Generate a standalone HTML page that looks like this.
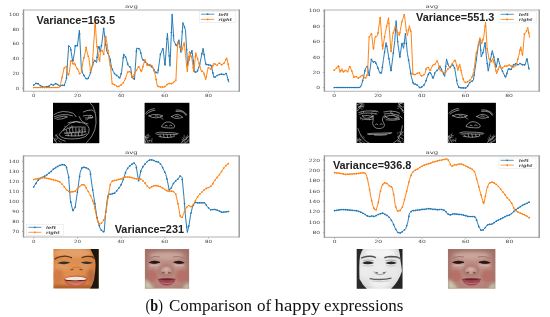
<!DOCTYPE html>
<html><head><meta charset="utf-8"><title>Comparison of happy expressions</title>
<style>
html,body{margin:0;padding:0;background:#fff;}
body{width:550px;height:317px;overflow:hidden;position:relative;}
svg{position:absolute;left:0;top:0;display:block;filter:blur(0.3px);}
.tt{font-family:"DejaVu Sans",sans-serif;font-size:4.7px;fill:#444;}
.tl{font-family:"DejaVu Sans",sans-serif;font-size:4.4px;fill:#444;}
.lg{font-family:"DejaVu Sans",sans-serif;font-size:4.1px;font-style:italic;font-weight:bold;fill:#555;}
.vt{font-family:"Liberation Sans",sans-serif;font-weight:bold;font-size:10.9px;fill:#222;}
.tk{stroke:#777;stroke-width:0.6;}
.fh{stroke:#b4b4b4;stroke-width:1.1;}
.fv{stroke:#969696;stroke-width:1.4;}
.cap{position:absolute;left:0;top:0;font-family:"Liberation Serif",serif;}
</style></head>
<body>
<svg width="550" height="317" viewBox="0 0 550 317">
<rect width="550" height="317" fill="#fff"/>
<text x="125.0" y="8.1" class="tt" textLength="12.8" lengthAdjust="spacingAndGlyphs">avg</text>
<line x1="33.7" y1="91.2" x2="33.7" y2="92.7" class="tk"/><text x="31.98" y="96.8" class="tl" textLength="3.45" lengthAdjust="spacingAndGlyphs">0</text>
<line x1="77.4" y1="91.2" x2="77.4" y2="92.7" class="tk"/><text x="73.95" y="96.8" class="tl" textLength="6.90" lengthAdjust="spacingAndGlyphs">20</text>
<line x1="121.1" y1="91.2" x2="121.1" y2="92.7" class="tk"/><text x="117.65" y="96.8" class="tl" textLength="6.90" lengthAdjust="spacingAndGlyphs">40</text>
<line x1="164.8" y1="91.2" x2="164.8" y2="92.7" class="tk"/><text x="161.35" y="96.8" class="tl" textLength="6.90" lengthAdjust="spacingAndGlyphs">60</text>
<line x1="208.5" y1="91.2" x2="208.5" y2="92.7" class="tk"/><text x="205.05" y="96.8" class="tl" textLength="6.90" lengthAdjust="spacingAndGlyphs">80</text>
<line x1="22.0" y1="88.2" x2="23.5" y2="88.2" class="tk"/><text x="15.80" y="89.8" class="tl" textLength="3.40" lengthAdjust="spacingAndGlyphs">0</text>
<line x1="22.0" y1="73.4" x2="23.5" y2="73.4" class="tk"/><text x="12.40" y="74.9" class="tl" textLength="6.80" lengthAdjust="spacingAndGlyphs">20</text>
<line x1="22.0" y1="58.6" x2="23.5" y2="58.6" class="tk"/><text x="12.40" y="60.1" class="tl" textLength="6.80" lengthAdjust="spacingAndGlyphs">40</text>
<line x1="22.0" y1="43.7" x2="23.5" y2="43.7" class="tk"/><text x="12.40" y="45.3" class="tl" textLength="6.80" lengthAdjust="spacingAndGlyphs">60</text>
<line x1="22.0" y1="28.9" x2="23.5" y2="28.9" class="tk"/><text x="12.40" y="30.5" class="tl" textLength="6.80" lengthAdjust="spacingAndGlyphs">80</text>
<line x1="22.0" y1="14.1" x2="23.5" y2="14.1" class="tk"/><text x="9.00" y="15.7" class="tl" textLength="10.20" lengthAdjust="spacingAndGlyphs">100</text>
<polyline points="33.5,85.3 35.6,83.4 38.1,83.7 40.1,85.5 42.1,86.5 44.6,87.3 46.7,86.5 48.7,86.5 51.0,84.2 53.0,85.3 55.3,83.7 57.3,84.0 59.3,86.3 61.8,85.3 64.3,85.3 66.4,79.2 67.5,62.7 68.7,45.7 70.5,47.5 72.7,61.9 74.5,52.3 75.3,45.4 77.4,45.7 79.4,30.2 81.4,69.7 83.1,74.0 85.7,78.3 87.8,79.2 90.1,74.0 92.3,66.2 94.4,60.0 96.6,62.6 97.7,50.0 98.9,46.0 100.2,52.3 101.8,43.7 103.7,27.9 105.2,40.5 106.8,51.5 108.4,53.9 110.0,58.6 111.5,67.3 113.4,71.8 115.2,74.6 117.8,75.9 119.8,78.5 121.6,72.0 123.7,53.9 126.0,57.8 128.1,65.6 130.7,67.4 132.0,77.2 134.5,79.3 136.6,48.2 139.7,48.8 142.3,59.1 144.9,61.7 147.5,64.3 150.0,65.6 152.6,67.4 155.2,72.0 157.8,73.3 160.4,54.4 163.0,48.2 165.0,65.6 167.4,33.3 170.0,66.3 172.1,13.9 173.9,41.0 176.5,46.2 179.0,39.7 180.9,52.6 182.9,22.4 185.5,30.2 187.6,65.6 189.4,57.8 192.0,50.0 194.5,72.0 197.1,72.0 199.7,64.3 203.1,48.2 205.7,64.3 208.8,64.8 211.3,65.6 213.9,77.7 216.5,75.9 219.1,74.6 221.7,74.1 224.3,74.6 226.3,73.3 228.9,82.4" fill="none" stroke="#1f77b4" stroke-width="0.95" stroke-linejoin="round"/>
<g fill="#1f77b4"><circle cx="33.7" cy="85.1" r="0.85"/><circle cx="35.9" cy="83.4" r="0.85"/><circle cx="38.1" cy="83.7" r="0.85"/><circle cx="40.3" cy="85.6" r="0.85"/><circle cx="42.4" cy="86.6" r="0.85"/><circle cx="44.6" cy="87.3" r="0.85"/><circle cx="46.8" cy="86.5" r="0.85"/><circle cx="49.0" cy="86.2" r="0.85"/><circle cx="51.2" cy="84.3" r="0.85"/><circle cx="53.4" cy="85.0" r="0.85"/><circle cx="55.6" cy="83.7" r="0.85"/><circle cx="57.7" cy="84.5" r="0.85"/><circle cx="59.9" cy="86.1" r="0.85"/><circle cx="62.1" cy="85.3" r="0.85"/><circle cx="64.3" cy="85.3" r="0.85"/><circle cx="66.5" cy="78.1" r="0.85"/><circle cx="68.7" cy="46.3" r="0.85"/><circle cx="70.8" cy="49.8" r="0.85"/><circle cx="73.0" cy="60.1" r="0.85"/><circle cx="75.2" cy="46.1" r="0.85"/><circle cx="77.4" cy="45.7" r="0.85"/><circle cx="79.6" cy="33.9" r="0.85"/><circle cx="81.8" cy="70.6" r="0.85"/><circle cx="84.0" cy="75.4" r="0.85"/><circle cx="86.1" cy="78.5" r="0.85"/><circle cx="88.3" cy="78.0" r="0.85"/><circle cx="90.5" cy="72.5" r="0.85"/><circle cx="92.7" cy="65.0" r="0.85"/><circle cx="94.9" cy="60.6" r="0.85"/><circle cx="97.1" cy="57.3" r="0.85"/><circle cx="99.2" cy="47.7" r="0.85"/><circle cx="101.4" cy="45.7" r="0.85"/><circle cx="103.6" cy="28.6" r="0.85"/><circle cx="105.8" cy="44.7" r="0.85"/><circle cx="108.0" cy="53.3" r="0.85"/><circle cx="110.2" cy="59.6" r="0.85"/><circle cx="112.4" cy="69.3" r="0.85"/><circle cx="114.5" cy="73.6" r="0.85"/><circle cx="116.7" cy="75.4" r="0.85"/><circle cx="118.9" cy="77.3" r="0.85"/><circle cx="121.1" cy="73.8" r="0.85"/><circle cx="123.3" cy="57.5" r="0.85"/><circle cx="125.5" cy="56.9" r="0.85"/><circle cx="127.7" cy="63.9" r="0.85"/><circle cx="129.8" cy="66.8" r="0.85"/><circle cx="132.0" cy="77.2" r="0.85"/><circle cx="134.2" cy="79.1" r="0.85"/><circle cx="136.4" cy="51.2" r="0.85"/><circle cx="138.6" cy="48.6" r="0.85"/><circle cx="140.8" cy="53.0" r="0.85"/><circle cx="142.9" cy="59.7" r="0.85"/><circle cx="145.1" cy="61.9" r="0.85"/><circle cx="147.3" cy="64.1" r="0.85"/><circle cx="149.5" cy="65.3" r="0.85"/><circle cx="151.7" cy="66.8" r="0.85"/><circle cx="153.9" cy="69.7" r="0.85"/><circle cx="156.1" cy="72.4" r="0.85"/><circle cx="158.2" cy="70.1" r="0.85"/><circle cx="160.4" cy="54.3" r="0.85"/><circle cx="162.6" cy="49.1" r="0.85"/><circle cx="164.8" cy="63.9" r="0.85"/><circle cx="167.0" cy="38.9" r="0.85"/><circle cx="169.2" cy="55.8" r="0.85"/><circle cx="171.4" cy="32.5" r="0.85"/><circle cx="173.5" cy="35.6" r="0.85"/><circle cx="175.7" cy="44.7" r="0.85"/><circle cx="177.9" cy="42.5" r="0.85"/><circle cx="180.1" cy="47.1" r="0.85"/><circle cx="182.3" cy="31.8" r="0.85"/><circle cx="184.5" cy="27.1" r="0.85"/><circle cx="186.7" cy="49.6" r="0.85"/><circle cx="188.8" cy="60.2" r="0.85"/><circle cx="191.0" cy="52.9" r="0.85"/><circle cx="193.2" cy="60.6" r="0.85"/><circle cx="195.4" cy="72.0" r="0.85"/><circle cx="197.6" cy="70.6" r="0.85"/><circle cx="199.8" cy="64.0" r="0.85"/><circle cx="201.9" cy="53.7" r="0.85"/><circle cx="204.1" cy="54.6" r="0.85"/><circle cx="206.3" cy="64.4" r="0.85"/><circle cx="208.5" cy="64.8" r="0.85"/><circle cx="210.7" cy="65.4" r="0.85"/><circle cx="212.9" cy="72.9" r="0.85"/><circle cx="215.1" cy="76.9" r="0.85"/><circle cx="217.2" cy="75.5" r="0.85"/><circle cx="219.4" cy="74.5" r="0.85"/><circle cx="221.6" cy="74.1" r="0.85"/><circle cx="223.8" cy="74.5" r="0.85"/><circle cx="226.0" cy="73.5" r="0.85"/><circle cx="228.2" cy="79.8" r="0.85"/></g>
<polyline points="33.5,87.5 59.3,87.5 60.6,83.5 62.3,76.6 64.1,67.9 66.3,66.2 68.1,75.7 69.3,72.3 71.0,60.1 72.2,61.0 73.3,64.5 74.5,62.7 76.2,67.1 77.9,69.7 79.7,74.0 81.4,72.3 83.1,61.0 84.9,54.1 86.1,47.1 87.5,54.1 88.8,57.5 90.6,71.4 92.3,65.3 95.2,21.5 96.6,43.7 98.1,53.1 99.7,61.8 100.5,51.5 102.1,50.0 103.7,54.7 105.6,35.8 107.1,43.7 108.7,56.3 110.8,68.9 112.1,83.6 115.2,84.9 117.8,87.0 120.3,85.5 122.9,83.6 125.5,78.5 127.6,72.0 130.2,71.5 132.7,78.5 135.3,72.0 138.9,66.3 141.5,72.0 144.9,59.6 147.5,65.6 150.0,64.3 152.6,66.3 155.2,74.6 157.3,86.2 160.4,87.0 164.3,87.0 168.1,83.6 172.0,83.6 175.9,80.3 177.7,42.3 179.8,46.2 181.6,51.3 184.2,42.3 185.5,55.2 187.3,72.0 189.4,51.3 192.0,59.1 193.8,72.0 195.8,52.6 198.4,61.7 201.0,70.7 203.6,72.0 205.7,79.8 208.2,67.4 211.3,69.4 213.9,63.0 216.5,65.6 219.1,63.0 221.7,64.8 224.3,63.0 226.8,57.8 229.4,70.0" fill="none" stroke="#ff7f0e" stroke-width="0.95" stroke-linejoin="round"/>
<g fill="#ff7f0e"><circle cx="33.7" cy="87.5" r="0.85"/><circle cx="35.9" cy="87.5" r="0.85"/><circle cx="38.1" cy="87.5" r="0.85"/><circle cx="40.3" cy="87.5" r="0.85"/><circle cx="42.4" cy="87.5" r="0.85"/><circle cx="44.6" cy="87.5" r="0.85"/><circle cx="46.8" cy="87.5" r="0.85"/><circle cx="49.0" cy="87.5" r="0.85"/><circle cx="51.2" cy="87.5" r="0.85"/><circle cx="53.4" cy="87.5" r="0.85"/><circle cx="55.6" cy="87.5" r="0.85"/><circle cx="57.7" cy="87.5" r="0.85"/><circle cx="59.9" cy="85.6" r="0.85"/><circle cx="62.1" cy="77.4" r="0.85"/><circle cx="64.3" cy="67.8" r="0.85"/><circle cx="66.5" cy="67.1" r="0.85"/><circle cx="68.7" cy="74.1" r="0.85"/><circle cx="70.8" cy="61.2" r="0.85"/><circle cx="73.0" cy="63.6" r="0.85"/><circle cx="75.2" cy="64.6" r="0.85"/><circle cx="77.4" cy="68.9" r="0.85"/><circle cx="79.6" cy="73.7" r="0.85"/><circle cx="81.8" cy="69.8" r="0.85"/><circle cx="84.0" cy="57.7" r="0.85"/><circle cx="86.1" cy="47.3" r="0.85"/><circle cx="88.3" cy="56.3" r="0.85"/><circle cx="90.5" cy="70.7" r="0.85"/><circle cx="92.7" cy="59.3" r="0.85"/><circle cx="94.9" cy="26.3" r="0.85"/><circle cx="97.1" cy="46.6" r="0.85"/><circle cx="99.2" cy="59.4" r="0.85"/><circle cx="101.4" cy="50.6" r="0.85"/><circle cx="103.6" cy="54.5" r="0.85"/><circle cx="105.8" cy="36.9" r="0.85"/><circle cx="108.0" cy="50.7" r="0.85"/><circle cx="110.2" cy="65.2" r="0.85"/><circle cx="112.4" cy="83.7" r="0.85"/><circle cx="114.5" cy="84.6" r="0.85"/><circle cx="116.7" cy="86.1" r="0.85"/><circle cx="118.9" cy="86.3" r="0.85"/><circle cx="121.1" cy="84.9" r="0.85"/><circle cx="123.3" cy="82.8" r="0.85"/><circle cx="125.5" cy="78.6" r="0.85"/><circle cx="127.7" cy="72.0" r="0.85"/><circle cx="129.8" cy="71.6" r="0.85"/><circle cx="132.0" cy="76.6" r="0.85"/><circle cx="134.2" cy="74.7" r="0.85"/><circle cx="136.4" cy="70.3" r="0.85"/><circle cx="138.6" cy="66.8" r="0.85"/><circle cx="140.8" cy="70.4" r="0.85"/><circle cx="142.9" cy="66.7" r="0.85"/><circle cx="145.1" cy="60.1" r="0.85"/><circle cx="147.3" cy="65.2" r="0.85"/><circle cx="149.5" cy="64.6" r="0.85"/><circle cx="151.7" cy="65.6" r="0.85"/><circle cx="153.9" cy="70.4" r="0.85"/><circle cx="156.1" cy="79.4" r="0.85"/><circle cx="158.2" cy="86.4" r="0.85"/><circle cx="160.4" cy="87.0" r="0.85"/><circle cx="162.6" cy="87.0" r="0.85"/><circle cx="164.8" cy="86.6" r="0.85"/><circle cx="167.0" cy="84.6" r="0.85"/><circle cx="169.2" cy="83.6" r="0.85"/><circle cx="171.4" cy="83.6" r="0.85"/><circle cx="173.5" cy="82.3" r="0.85"/><circle cx="175.7" cy="80.4" r="0.85"/><circle cx="177.9" cy="42.7" r="0.85"/><circle cx="180.1" cy="47.0" r="0.85"/><circle cx="182.3" cy="48.9" r="0.85"/><circle cx="184.5" cy="44.9" r="0.85"/><circle cx="186.7" cy="65.9" r="0.85"/><circle cx="188.8" cy="56.9" r="0.85"/><circle cx="191.0" cy="56.2" r="0.85"/><circle cx="193.2" cy="67.7" r="0.85"/><circle cx="195.4" cy="56.6" r="0.85"/><circle cx="197.6" cy="58.8" r="0.85"/><circle cx="199.8" cy="66.4" r="0.85"/><circle cx="201.9" cy="71.2" r="0.85"/><circle cx="204.1" cy="74.0" r="0.85"/><circle cx="206.3" cy="76.7" r="0.85"/><circle cx="208.5" cy="67.6" r="0.85"/><circle cx="210.7" cy="69.0" r="0.85"/><circle cx="212.9" cy="65.5" r="0.85"/><circle cx="215.1" cy="64.2" r="0.85"/><circle cx="217.2" cy="64.9" r="0.85"/><circle cx="219.4" cy="63.2" r="0.85"/><circle cx="221.6" cy="64.7" r="0.85"/><circle cx="223.8" cy="63.3" r="0.85"/><circle cx="226.0" cy="59.5" r="0.85"/><circle cx="228.2" cy="64.2" r="0.85"/></g>
<line x1="23.5" y1="10.0" x2="239.3" y2="10.0" class="fh"/><line x1="23.5" y1="91.2" x2="239.3" y2="91.2" class="fh"/><line x1="23.5" y1="9.5" x2="23.5" y2="91.7" class="fv"/><line x1="239.3" y1="9.5" x2="239.3" y2="91.7" class="fv"/>
<rect x="199.5" y="11.5" width="36.099999999999994" height="11.2" fill="#fff" fill-opacity="0.8" stroke="#e2e2e2" stroke-width="0.5"/>
<line x1="201.1" y1="14.2" x2="214.3" y2="14.2" stroke="#1f77b4" stroke-width="0.9" stroke-opacity="0.85"/><circle cx="207.7" cy="14.2" r="0.9" fill="#1f77b4"/><text x="218.4" y="15.65" class="lg" textLength="10.0" lengthAdjust="spacingAndGlyphs">left</text>
<line x1="201.1" y1="19.4" x2="214.3" y2="19.4" stroke="#ff7f0e" stroke-width="0.9" stroke-opacity="0.85"/><circle cx="207.7" cy="19.4" r="0.9" fill="#ff7f0e"/><text x="218.4" y="20.85" class="lg" textLength="13.6" lengthAdjust="spacingAndGlyphs">right</text>
<text x="36.6" y="23.7" class="vt">Variance=163.5</text>
<text x="425.4" y="8.1" class="tt" textLength="12.8" lengthAdjust="spacingAndGlyphs">avg</text>
<line x1="334.3" y1="91.2" x2="334.3" y2="92.7" class="tk"/><text x="332.38" y="96.8" class="tl" textLength="3.85" lengthAdjust="spacingAndGlyphs">0</text>
<line x1="378.0" y1="91.2" x2="378.0" y2="92.7" class="tk"/><text x="374.15" y="96.8" class="tl" textLength="7.70" lengthAdjust="spacingAndGlyphs">20</text>
<line x1="421.7" y1="91.2" x2="421.7" y2="92.7" class="tk"/><text x="417.85" y="96.8" class="tl" textLength="7.70" lengthAdjust="spacingAndGlyphs">40</text>
<line x1="465.4" y1="91.2" x2="465.4" y2="92.7" class="tk"/><text x="461.55" y="96.8" class="tl" textLength="7.70" lengthAdjust="spacingAndGlyphs">60</text>
<line x1="509.1" y1="91.2" x2="509.1" y2="92.7" class="tk"/><text x="505.25" y="96.8" class="tl" textLength="7.70" lengthAdjust="spacingAndGlyphs">80</text>
<line x1="322.9" y1="87.7" x2="324.4" y2="87.7" class="tk"/><text x="316.30" y="89.2" class="tl" textLength="3.80" lengthAdjust="spacingAndGlyphs">0</text>
<line x1="322.9" y1="72.3" x2="324.4" y2="72.3" class="tk"/><text x="312.50" y="73.9" class="tl" textLength="7.60" lengthAdjust="spacingAndGlyphs">20</text>
<line x1="322.9" y1="57.0" x2="324.4" y2="57.0" class="tk"/><text x="312.50" y="58.5" class="tl" textLength="7.60" lengthAdjust="spacingAndGlyphs">40</text>
<line x1="322.9" y1="41.6" x2="324.4" y2="41.6" class="tk"/><text x="312.50" y="43.1" class="tl" textLength="7.60" lengthAdjust="spacingAndGlyphs">60</text>
<line x1="322.9" y1="26.2" x2="324.4" y2="26.2" class="tk"/><text x="312.50" y="27.8" class="tl" textLength="7.60" lengthAdjust="spacingAndGlyphs">80</text>
<line x1="322.9" y1="10.9" x2="324.4" y2="10.9" class="tk"/><text x="308.70" y="12.4" class="tl" textLength="11.40" lengthAdjust="spacingAndGlyphs">100</text>
<polyline points="334.0,87.5 359.9,87.5 361.5,85.0 363.5,77.5 365.5,68.0 367.3,66.3 369.2,75.8 371.4,59.2 373.2,62.2 375.0,61.2 377.0,65.5 379.5,72.3 381.5,73.5 383.4,59.7 386.0,42.5 387.7,50.9 389.3,61.0 391.0,71.1 392.8,57.2 394.8,40.8 396.1,20.6 397.8,43.3 399.9,57.2 401.9,43.3 403.6,48.4 405.4,33.2 407.4,53.4 409.4,64.8 411.2,76.1 413.4,84.1 415.6,84.1 417.8,85.5 420.1,88.0 421.9,86.8 423.7,85.5 425.5,82.3 427.3,76.9 429.1,72.4 430.9,73.3 433.2,78.7 435.0,72.4 436.8,70.6 438.6,68.8 439.9,65.7 441.1,68.8 442.9,72.4 444.7,76.5 446.5,58.9 448.0,64.3 449.8,67.9 451.6,65.7 453.0,64.3 454.8,68.8 456.1,76.9 457.3,84.1 459.1,87.7 466.3,88.0 467.8,85.9 469.6,82.6 471.7,81.4 473.4,80.3 476.0,62.2 478.1,46.7 479.9,38.9 481.2,57.0 483.2,51.8 485.1,42.8 486.3,55.7 488.2,71.2 490.2,60.9 492.3,50.5 494.1,58.3 496.2,67.3 498.0,58.3 500.6,67.3 503.1,72.5 505.7,77.7 508.3,68.6 510.9,69.9 513.5,64.8 516.2,63.5 518.2,64.8 520.0,63.5 522.6,64.8 525.2,64.8 527.0,58.3 529.1,69.9" fill="none" stroke="#1f77b4" stroke-width="0.95" stroke-linejoin="round"/>
<g fill="#1f77b4"><circle cx="334.3" cy="87.5" r="0.85"/><circle cx="336.5" cy="87.5" r="0.85"/><circle cx="338.7" cy="87.5" r="0.85"/><circle cx="340.9" cy="87.5" r="0.85"/><circle cx="343.0" cy="87.5" r="0.85"/><circle cx="345.2" cy="87.5" r="0.85"/><circle cx="347.4" cy="87.5" r="0.85"/><circle cx="349.6" cy="87.5" r="0.85"/><circle cx="351.8" cy="87.5" r="0.85"/><circle cx="354.0" cy="87.5" r="0.85"/><circle cx="356.2" cy="87.5" r="0.85"/><circle cx="358.3" cy="87.5" r="0.85"/><circle cx="360.5" cy="86.5" r="0.85"/><circle cx="362.7" cy="80.5" r="0.85"/><circle cx="364.9" cy="70.9" r="0.85"/><circle cx="367.1" cy="66.5" r="0.85"/><circle cx="369.3" cy="75.3" r="0.85"/><circle cx="371.4" cy="59.3" r="0.85"/><circle cx="373.6" cy="62.0" r="0.85"/><circle cx="375.8" cy="63.0" r="0.85"/><circle cx="378.0" cy="68.2" r="0.85"/><circle cx="380.2" cy="72.7" r="0.85"/><circle cx="382.4" cy="67.2" r="0.85"/><circle cx="384.6" cy="52.1" r="0.85"/><circle cx="386.7" cy="46.2" r="0.85"/><circle cx="388.9" cy="58.6" r="0.85"/><circle cx="391.1" cy="70.3" r="0.85"/><circle cx="393.3" cy="53.1" r="0.85"/><circle cx="395.5" cy="30.2" r="0.85"/><circle cx="397.7" cy="41.5" r="0.85"/><circle cx="399.9" cy="56.9" r="0.85"/><circle cx="402.0" cy="43.7" r="0.85"/><circle cx="404.2" cy="43.2" r="0.85"/><circle cx="406.4" cy="43.4" r="0.85"/><circle cx="408.6" cy="60.2" r="0.85"/><circle cx="410.8" cy="73.4" r="0.85"/><circle cx="413.0" cy="82.5" r="0.85"/><circle cx="415.1" cy="84.1" r="0.85"/><circle cx="417.3" cy="85.2" r="0.85"/><circle cx="419.5" cy="87.4" r="0.85"/><circle cx="421.7" cy="86.9" r="0.85"/><circle cx="423.9" cy="85.2" r="0.85"/><circle cx="426.1" cy="80.6" r="0.85"/><circle cx="428.3" cy="74.5" r="0.85"/><circle cx="430.4" cy="73.1" r="0.85"/><circle cx="432.6" cy="77.4" r="0.85"/><circle cx="434.8" cy="73.1" r="0.85"/><circle cx="437.0" cy="70.4" r="0.85"/><circle cx="439.2" cy="67.4" r="0.85"/><circle cx="441.4" cy="69.3" r="0.85"/><circle cx="443.6" cy="73.9" r="0.85"/><circle cx="445.7" cy="66.4" r="0.85"/><circle cx="447.9" cy="64.0" r="0.85"/><circle cx="450.1" cy="67.5" r="0.85"/><circle cx="452.3" cy="65.0" r="0.85"/><circle cx="454.5" cy="68.0" r="0.85"/><circle cx="456.7" cy="80.3" r="0.85"/><circle cx="458.8" cy="87.2" r="0.85"/><circle cx="461.0" cy="87.8" r="0.85"/><circle cx="463.2" cy="87.9" r="0.85"/><circle cx="465.4" cy="88.0" r="0.85"/><circle cx="467.6" cy="86.2" r="0.85"/><circle cx="469.8" cy="82.5" r="0.85"/><circle cx="472.0" cy="81.2" r="0.85"/><circle cx="474.1" cy="75.1" r="0.85"/><circle cx="476.3" cy="59.8" r="0.85"/><circle cx="478.5" cy="44.9" r="0.85"/><circle cx="480.7" cy="50.0" r="0.85"/><circle cx="482.9" cy="52.6" r="0.85"/><circle cx="485.1" cy="43.0" r="0.85"/><circle cx="487.2" cy="63.5" r="0.85"/><circle cx="489.4" cy="64.8" r="0.85"/><circle cx="491.6" cy="53.9" r="0.85"/><circle cx="493.8" cy="57.0" r="0.85"/><circle cx="496.0" cy="66.4" r="0.85"/><circle cx="498.2" cy="58.9" r="0.85"/><circle cx="500.4" cy="66.5" r="0.85"/><circle cx="502.5" cy="71.3" r="0.85"/><circle cx="504.7" cy="75.8" r="0.85"/><circle cx="506.9" cy="73.4" r="0.85"/><circle cx="509.1" cy="69.0" r="0.85"/><circle cx="511.3" cy="69.1" r="0.85"/><circle cx="513.5" cy="64.9" r="0.85"/><circle cx="515.7" cy="63.8" r="0.85"/><circle cx="517.8" cy="64.6" r="0.85"/><circle cx="520.0" cy="63.5" r="0.85"/><circle cx="522.2" cy="64.6" r="0.85"/><circle cx="524.4" cy="64.8" r="0.85"/><circle cx="526.6" cy="59.8" r="0.85"/><circle cx="528.8" cy="68.0" r="0.85"/></g>
<polyline points="334.0,70.5 336.6,67.9 338.4,65.3 340.0,72.5 341.8,68.6 343.6,72.5 345.7,69.9 347.7,72.0 349.8,66.1 351.9,71.2 353.9,77.2 356.0,76.4 358.1,78.2 360.1,77.2 362.0,74.9 364.0,76.6 365.8,78.6 367.6,73.6 369.1,37.0 371.6,33.7 373.4,49.6 375.1,37.0 377.6,35.7 380.2,17.6 382.7,49.6 384.7,35.7 388.5,17.6 391.0,52.1 392.8,34.5 395.3,26.1 397.3,32.0 399.3,35.7 401.9,21.9 404.4,14.3 406.2,29.4 407.4,35.7 409.4,25.6 411.2,33.2 412.9,74.2 414.7,74.7 417.0,73.6 419.2,72.4 421.0,76.0 423.2,75.4 425.0,73.3 426.4,67.9 428.5,67.5 430.0,71.1 431.8,67.0 433.2,64.6 435.0,64.3 437.2,60.7 438.6,64.6 439.9,70.6 441.1,70.6 442.6,71.5 444.4,73.3 446.2,71.5 448.0,68.8 449.8,67.0 451.9,64.3 453.4,62.1 455.2,59.8 456.6,65.2 457.9,70.6 459.7,63.9 460.9,69.7 462.4,76.5 464.2,81.9 466.0,82.6 468.1,81.4 469.9,80.1 471.4,78.7 473.9,71.2 476.0,54.4 478.1,46.7 479.9,37.6 481.7,44.1 483.8,36.3 485.6,22.1 487.1,48.0 488.9,58.3 491.0,62.2 492.8,58.3 494.6,64.8 496.7,73.8 499.3,66.1 501.8,68.6 504.4,66.1 507.0,66.1 509.6,64.8 512.7,67.3 516.2,65.3 518.8,55.7 520.8,46.7 522.6,55.7 524.4,33.8 526.0,32.5 527.8,27.3 529.6,37.6" fill="none" stroke="#ff7f0e" stroke-width="0.95" stroke-linejoin="round"/>
<g fill="#ff7f0e"><circle cx="334.3" cy="70.2" r="0.85"/><circle cx="336.5" cy="68.0" r="0.85"/><circle cx="338.7" cy="66.5" r="0.85"/><circle cx="340.9" cy="70.6" r="0.85"/><circle cx="343.0" cy="71.3" r="0.85"/><circle cx="345.2" cy="70.5" r="0.85"/><circle cx="347.4" cy="71.7" r="0.85"/><circle cx="349.6" cy="66.7" r="0.85"/><circle cx="351.8" cy="70.9" r="0.85"/><circle cx="354.0" cy="77.2" r="0.85"/><circle cx="356.2" cy="76.5" r="0.85"/><circle cx="358.3" cy="78.1" r="0.85"/><circle cx="360.5" cy="76.7" r="0.85"/><circle cx="362.7" cy="75.5" r="0.85"/><circle cx="364.9" cy="77.6" r="0.85"/><circle cx="367.1" cy="75.1" r="0.85"/><circle cx="369.3" cy="36.8" r="0.85"/><circle cx="371.4" cy="33.9" r="0.85"/><circle cx="373.6" cy="47.9" r="0.85"/><circle cx="375.8" cy="36.6" r="0.85"/><circle cx="378.0" cy="32.9" r="0.85"/><circle cx="380.2" cy="17.7" r="0.85"/><circle cx="382.4" cy="45.4" r="0.85"/><circle cx="384.6" cy="36.7" r="0.85"/><circle cx="386.7" cy="26.0" r="0.85"/><circle cx="388.9" cy="23.5" r="0.85"/><circle cx="391.1" cy="51.0" r="0.85"/><circle cx="393.3" cy="32.8" r="0.85"/><circle cx="395.5" cy="26.6" r="0.85"/><circle cx="397.7" cy="32.7" r="0.85"/><circle cx="399.9" cy="32.8" r="0.85"/><circle cx="402.0" cy="21.5" r="0.85"/><circle cx="404.2" cy="14.8" r="0.85"/><circle cx="406.4" cy="30.5" r="0.85"/><circle cx="408.6" cy="29.7" r="0.85"/><circle cx="410.8" cy="31.4" r="0.85"/><circle cx="413.0" cy="74.2" r="0.85"/><circle cx="415.1" cy="74.5" r="0.85"/><circle cx="417.3" cy="73.4" r="0.85"/><circle cx="419.5" cy="73.0" r="0.85"/><circle cx="421.7" cy="75.8" r="0.85"/><circle cx="423.9" cy="74.6" r="0.85"/><circle cx="426.1" cy="69.2" r="0.85"/><circle cx="428.3" cy="67.5" r="0.85"/><circle cx="430.4" cy="70.1" r="0.85"/><circle cx="432.6" cy="65.6" r="0.85"/><circle cx="434.8" cy="64.3" r="0.85"/><circle cx="437.0" cy="61.0" r="0.85"/><circle cx="439.2" cy="67.3" r="0.85"/><circle cx="441.4" cy="70.8" r="0.85"/><circle cx="443.6" cy="72.5" r="0.85"/><circle cx="445.7" cy="72.0" r="0.85"/><circle cx="447.9" cy="68.9" r="0.85"/><circle cx="450.1" cy="66.6" r="0.85"/><circle cx="452.3" cy="63.7" r="0.85"/><circle cx="454.5" cy="60.7" r="0.85"/><circle cx="456.7" cy="65.4" r="0.85"/><circle cx="458.8" cy="67.1" r="0.85"/><circle cx="461.0" cy="70.3" r="0.85"/><circle cx="463.2" cy="78.9" r="0.85"/><circle cx="465.4" cy="82.4" r="0.85"/><circle cx="467.6" cy="81.7" r="0.85"/><circle cx="469.8" cy="80.2" r="0.85"/><circle cx="472.0" cy="77.0" r="0.85"/><circle cx="474.1" cy="69.3" r="0.85"/><circle cx="476.3" cy="53.2" r="0.85"/><circle cx="478.5" cy="44.6" r="0.85"/><circle cx="480.7" cy="40.5" r="0.85"/><circle cx="482.9" cy="39.7" r="0.85"/><circle cx="485.1" cy="26.3" r="0.85"/><circle cx="487.2" cy="48.9" r="0.85"/><circle cx="489.4" cy="59.3" r="0.85"/><circle cx="491.6" cy="60.9" r="0.85"/><circle cx="493.8" cy="61.9" r="0.85"/><circle cx="496.0" cy="70.8" r="0.85"/><circle cx="498.2" cy="69.4" r="0.85"/><circle cx="500.4" cy="67.2" r="0.85"/><circle cx="502.5" cy="67.9" r="0.85"/><circle cx="504.7" cy="66.1" r="0.85"/><circle cx="506.9" cy="66.1" r="0.85"/><circle cx="509.1" cy="65.0" r="0.85"/><circle cx="511.3" cy="66.2" r="0.85"/><circle cx="513.5" cy="66.9" r="0.85"/><circle cx="515.7" cy="65.6" r="0.85"/><circle cx="517.8" cy="59.2" r="0.85"/><circle cx="520.0" cy="50.2" r="0.85"/><circle cx="522.2" cy="53.8" r="0.85"/><circle cx="524.4" cy="33.9" r="0.85"/><circle cx="526.6" cy="30.8" r="0.85"/><circle cx="528.8" cy="32.8" r="0.85"/></g>
<line x1="324.4" y1="10.0" x2="539.2" y2="10.0" class="fh"/><line x1="324.4" y1="91.2" x2="539.2" y2="91.2" class="fh"/><line x1="324.4" y1="9.5" x2="324.4" y2="91.7" class="fv"/><line x1="539.2" y1="9.5" x2="539.2" y2="91.7" class="fv"/>
<rect x="499" y="11.8" width="37.60000000000002" height="11.099999999999998" fill="#fff" fill-opacity="0.8" stroke="#e2e2e2" stroke-width="0.5"/>
<line x1="500.6" y1="14.3" x2="513.8" y2="14.3" stroke="#1f77b4" stroke-width="0.9" stroke-opacity="0.85"/><circle cx="507.2" cy="14.3" r="0.9" fill="#1f77b4"/><text x="518.8" y="15.75" class="lg" textLength="10.0" lengthAdjust="spacingAndGlyphs">left</text>
<line x1="500.6" y1="19.4" x2="513.8" y2="19.4" stroke="#ff7f0e" stroke-width="0.9" stroke-opacity="0.85"/><circle cx="507.2" cy="19.4" r="0.9" fill="#ff7f0e"/><text x="518.8" y="20.85" class="lg" textLength="13.6" lengthAdjust="spacingAndGlyphs">right</text>
<text x="416.0" y="21.4" class="vt">Variance=551.3</text>
<text x="124.9" y="154.0" class="tt" textLength="12.8" lengthAdjust="spacingAndGlyphs">avg</text>
<line x1="33.7" y1="237.0" x2="33.7" y2="238.5" class="tk"/><text x="31.95" y="242.6" class="tl" textLength="3.50" lengthAdjust="spacingAndGlyphs">0</text>
<line x1="77.4" y1="237.0" x2="77.4" y2="238.5" class="tk"/><text x="73.90" y="242.6" class="tl" textLength="7.00" lengthAdjust="spacingAndGlyphs">20</text>
<line x1="121.1" y1="237.0" x2="121.1" y2="238.5" class="tk"/><text x="117.60" y="242.6" class="tl" textLength="7.00" lengthAdjust="spacingAndGlyphs">40</text>
<line x1="164.8" y1="237.0" x2="164.8" y2="238.5" class="tk"/><text x="161.30" y="242.6" class="tl" textLength="7.00" lengthAdjust="spacingAndGlyphs">60</text>
<line x1="208.5" y1="237.0" x2="208.5" y2="238.5" class="tk"/><text x="205.00" y="242.6" class="tl" textLength="7.00" lengthAdjust="spacingAndGlyphs">80</text>
<line x1="22.0" y1="231.4" x2="23.5" y2="231.4" class="tk"/><text x="12.30" y="233.0" class="tl" textLength="6.90" lengthAdjust="spacingAndGlyphs">70</text>
<line x1="22.0" y1="221.4" x2="23.5" y2="221.4" class="tk"/><text x="12.30" y="223.0" class="tl" textLength="6.90" lengthAdjust="spacingAndGlyphs">80</text>
<line x1="22.0" y1="211.4" x2="23.5" y2="211.4" class="tk"/><text x="12.30" y="213.0" class="tl" textLength="6.90" lengthAdjust="spacingAndGlyphs">90</text>
<line x1="22.0" y1="201.4" x2="23.5" y2="201.4" class="tk"/><text x="8.85" y="203.0" class="tl" textLength="10.35" lengthAdjust="spacingAndGlyphs">100</text>
<line x1="22.0" y1="191.4" x2="23.5" y2="191.4" class="tk"/><text x="8.85" y="193.0" class="tl" textLength="10.35" lengthAdjust="spacingAndGlyphs">110</text>
<line x1="22.0" y1="181.4" x2="23.5" y2="181.4" class="tk"/><text x="8.85" y="183.0" class="tl" textLength="10.35" lengthAdjust="spacingAndGlyphs">120</text>
<line x1="22.0" y1="171.4" x2="23.5" y2="171.4" class="tk"/><text x="8.85" y="173.0" class="tl" textLength="10.35" lengthAdjust="spacingAndGlyphs">130</text>
<line x1="22.0" y1="161.4" x2="23.5" y2="161.4" class="tk"/><text x="8.85" y="163.0" class="tl" textLength="10.35" lengthAdjust="spacingAndGlyphs">140</text>
<polyline points="33.5,187.3 35.9,183.4 37.9,180.3 40.5,178.3 43.1,177.0 45.7,175.7 48.3,173.6 50.8,171.8 53.4,169.2 56.0,167.4 58.6,165.9 61.2,164.8 63.7,164.6 66.1,165.9 68.6,176.4 70.3,199.8 72.8,210.8 75.2,207.1 77.7,190.0 80.1,172.7 82.1,167.3 84.6,167.3 87.5,168.3 90.0,170.3 91.9,185.0 93.9,197.3 95.6,208.4 96.9,217.0 98.8,224.3 100.5,229.3 103.0,231.7 104.2,231.7 105.5,214.5 107.2,199.8 108.6,193.6 110.4,194.4 112.8,193.6 114.5,193.2 116.4,191.2 118.4,188.6 120.5,186.0 122.3,182.1 124.1,177.0 126.2,170.5 128.8,166.6 131.3,164.8 133.9,162.8 136.0,165.3 137.3,173.1 138.6,180.8 139.6,177.0 140.9,170.5 143.0,166.6 145.6,163.3 148.1,160.7 150.7,159.7 153.3,160.2 155.9,161.5 158.9,162.2 161.5,165.3 164.0,170.5 165.9,174.4 167.4,180.8 169.2,189.9 171.0,188.6 173.1,183.9 175.7,180.8 178.3,178.8 180.3,175.7 182.1,177.7 183.9,196.3 185.5,217.0 187.3,232.5 189.1,224.8 190.7,214.4 192.5,206.7 195.1,202.3 197.6,202.8 201.5,202.8 204.8,202.8 207.4,206.7 210.5,209.8 214.4,209.3 218.3,210.6 222.1,212.4 226.0,211.8 229.4,211.3" fill="none" stroke="#1f77b4" stroke-width="0.95" stroke-linejoin="round"/>
<g fill="#1f77b4"><circle cx="33.7" cy="187.0" r="0.85"/><circle cx="35.9" cy="183.4" r="0.85"/><circle cx="38.1" cy="180.2" r="0.85"/><circle cx="40.3" cy="178.5" r="0.85"/><circle cx="42.4" cy="177.3" r="0.85"/><circle cx="44.6" cy="176.2" r="0.85"/><circle cx="46.8" cy="174.8" r="0.85"/><circle cx="49.0" cy="173.1" r="0.85"/><circle cx="51.2" cy="171.4" r="0.85"/><circle cx="53.4" cy="169.2" r="0.85"/><circle cx="55.6" cy="167.7" r="0.85"/><circle cx="57.7" cy="166.4" r="0.85"/><circle cx="59.9" cy="165.3" r="0.85"/><circle cx="62.1" cy="164.7" r="0.85"/><circle cx="64.3" cy="164.9" r="0.85"/><circle cx="66.5" cy="167.5" r="0.85"/><circle cx="68.7" cy="177.2" r="0.85"/><circle cx="70.8" cy="202.2" r="0.85"/><circle cx="73.0" cy="210.4" r="0.85"/><circle cx="75.2" cy="207.0" r="0.85"/><circle cx="77.4" cy="192.1" r="0.85"/><circle cx="79.6" cy="176.4" r="0.85"/><circle cx="81.8" cy="168.2" r="0.85"/><circle cx="84.0" cy="167.3" r="0.85"/><circle cx="86.1" cy="167.8" r="0.85"/><circle cx="88.3" cy="169.0" r="0.85"/><circle cx="90.5" cy="174.2" r="0.85"/><circle cx="92.7" cy="189.9" r="0.85"/><circle cx="94.9" cy="203.7" r="0.85"/><circle cx="97.1" cy="217.6" r="0.85"/><circle cx="99.2" cy="225.6" r="0.85"/><circle cx="101.4" cy="230.2" r="0.85"/><circle cx="103.6" cy="231.7" r="0.85"/><circle cx="105.8" cy="211.9" r="0.85"/><circle cx="108.0" cy="196.3" r="0.85"/><circle cx="110.2" cy="194.3" r="0.85"/><circle cx="112.4" cy="193.7" r="0.85"/><circle cx="114.5" cy="193.2" r="0.85"/><circle cx="116.7" cy="190.8" r="0.85"/><circle cx="118.9" cy="188.0" r="0.85"/><circle cx="121.1" cy="184.7" r="0.85"/><circle cx="123.3" cy="179.3" r="0.85"/><circle cx="125.5" cy="172.8" r="0.85"/><circle cx="127.7" cy="168.3" r="0.85"/><circle cx="129.8" cy="165.9" r="0.85"/><circle cx="132.0" cy="164.2" r="0.85"/><circle cx="134.2" cy="163.2" r="0.85"/><circle cx="136.4" cy="167.7" r="0.85"/><circle cx="138.6" cy="180.7" r="0.85"/><circle cx="140.8" cy="171.2" r="0.85"/><circle cx="142.9" cy="166.7" r="0.85"/><circle cx="145.1" cy="163.9" r="0.85"/><circle cx="147.3" cy="161.5" r="0.85"/><circle cx="149.5" cy="160.2" r="0.85"/><circle cx="151.7" cy="159.9" r="0.85"/><circle cx="153.9" cy="160.5" r="0.85"/><circle cx="156.1" cy="161.5" r="0.85"/><circle cx="158.2" cy="162.0" r="0.85"/><circle cx="160.4" cy="164.0" r="0.85"/><circle cx="162.6" cy="167.6" r="0.85"/><circle cx="164.8" cy="172.1" r="0.85"/><circle cx="167.0" cy="179.0" r="0.85"/><circle cx="169.2" cy="189.7" r="0.85"/><circle cx="171.4" cy="187.8" r="0.85"/><circle cx="173.5" cy="183.4" r="0.85"/><circle cx="175.7" cy="180.8" r="0.85"/><circle cx="177.9" cy="179.1" r="0.85"/><circle cx="180.1" cy="176.0" r="0.85"/><circle cx="182.3" cy="179.6" r="0.85"/><circle cx="184.5" cy="203.6" r="0.85"/><circle cx="186.7" cy="226.9" r="0.85"/><circle cx="188.8" cy="225.9" r="0.85"/><circle cx="191.0" cy="213.0" r="0.85"/><circle cx="193.2" cy="205.5" r="0.85"/><circle cx="195.4" cy="202.4" r="0.85"/><circle cx="197.6" cy="202.8" r="0.85"/><circle cx="199.8" cy="202.8" r="0.85"/><circle cx="201.9" cy="202.8" r="0.85"/><circle cx="204.1" cy="202.8" r="0.85"/><circle cx="206.3" cy="205.1" r="0.85"/><circle cx="208.5" cy="207.8" r="0.85"/><circle cx="210.7" cy="209.8" r="0.85"/><circle cx="212.9" cy="209.5" r="0.85"/><circle cx="215.1" cy="209.5" r="0.85"/><circle cx="217.2" cy="210.2" r="0.85"/><circle cx="219.4" cy="211.1" r="0.85"/><circle cx="221.6" cy="212.2" r="0.85"/><circle cx="223.8" cy="212.1" r="0.85"/><circle cx="226.0" cy="211.8" r="0.85"/><circle cx="228.2" cy="211.5" r="0.85"/></g>
<polyline points="33.5,179.5 36.6,178.8 39.2,178.3 41.8,177.7 44.4,177.7 47.0,178.3 49.5,178.8 52.1,179.5 54.7,180.1 57.3,180.8 60.0,182.1 62.9,185.0 66.1,189.4 69.3,191.9 72.3,191.9 75.2,191.2 78.4,187.5 82.1,184.5 84.6,185.0 87.0,189.4 89.5,193.6 91.9,198.5 94.4,205.9 96.4,215.7 98.1,223.1 100.5,224.3 103.0,221.4 104.7,218.2 106.7,207.1 108.6,193.6 110.4,183.8 112.8,180.6 115.8,180.3 118.4,179.5 121.0,178.8 123.6,177.7 126.2,177.0 128.8,177.0 131.3,177.5 133.9,178.3 136.5,178.8 139.1,178.8 141.7,179.5 144.3,182.1 146.8,185.5 149.4,188.1 152.0,186.5 154.6,185.5 157.6,186.0 160.2,186.5 162.8,188.1 165.3,189.9 167.9,191.2 170.5,191.2 173.1,191.2 175.7,193.8 178.3,205.4 180.3,217.0 182.1,217.5 183.9,213.1 186.0,208.0 188.6,205.4 191.2,206.7 193.8,204.1 196.3,198.9 198.9,195.0 201.5,192.5 204.1,189.9 206.7,188.1 209.3,187.3 211.8,185.5 214.4,180.8 217.0,177.7 219.6,174.4 222.2,170.5 224.8,166.6 228.6,163.3" fill="none" stroke="#ff7f0e" stroke-width="0.95" stroke-linejoin="round"/>
<g fill="#ff7f0e"><circle cx="33.7" cy="179.5" r="0.85"/><circle cx="35.9" cy="179.0" r="0.85"/><circle cx="38.1" cy="178.5" r="0.85"/><circle cx="40.3" cy="178.1" r="0.85"/><circle cx="42.4" cy="177.7" r="0.85"/><circle cx="44.6" cy="177.8" r="0.85"/><circle cx="46.8" cy="178.3" r="0.85"/><circle cx="49.0" cy="178.7" r="0.85"/><circle cx="51.2" cy="179.3" r="0.85"/><circle cx="53.4" cy="179.8" r="0.85"/><circle cx="55.6" cy="180.3" r="0.85"/><circle cx="57.7" cy="181.0" r="0.85"/><circle cx="59.9" cy="182.1" r="0.85"/><circle cx="62.1" cy="184.2" r="0.85"/><circle cx="64.3" cy="186.9" r="0.85"/><circle cx="66.5" cy="189.7" r="0.85"/><circle cx="68.7" cy="191.4" r="0.85"/><circle cx="70.8" cy="191.9" r="0.85"/><circle cx="73.0" cy="191.7" r="0.85"/><circle cx="75.2" cy="191.2" r="0.85"/><circle cx="77.4" cy="188.7" r="0.85"/><circle cx="79.6" cy="186.5" r="0.85"/><circle cx="81.8" cy="184.8" r="0.85"/><circle cx="84.0" cy="184.9" r="0.85"/><circle cx="86.1" cy="187.8" r="0.85"/><circle cx="88.3" cy="191.6" r="0.85"/><circle cx="90.5" cy="195.7" r="0.85"/><circle cx="92.7" cy="200.9" r="0.85"/><circle cx="94.9" cy="208.3" r="0.85"/><circle cx="97.1" cy="218.6" r="0.85"/><circle cx="99.2" cy="223.7" r="0.85"/><circle cx="101.4" cy="223.2" r="0.85"/><circle cx="103.6" cy="220.2" r="0.85"/><circle cx="105.8" cy="212.1" r="0.85"/><circle cx="108.0" cy="197.9" r="0.85"/><circle cx="110.2" cy="185.0" r="0.85"/><circle cx="112.4" cy="181.2" r="0.85"/><circle cx="114.5" cy="180.4" r="0.85"/><circle cx="116.7" cy="180.0" r="0.85"/><circle cx="118.9" cy="179.4" r="0.85"/><circle cx="121.1" cy="178.8" r="0.85"/><circle cx="123.3" cy="177.8" r="0.85"/><circle cx="125.5" cy="177.2" r="0.85"/><circle cx="127.7" cy="177.0" r="0.85"/><circle cx="129.8" cy="177.2" r="0.85"/><circle cx="132.0" cy="177.7" r="0.85"/><circle cx="134.2" cy="178.4" r="0.85"/><circle cx="136.4" cy="178.8" r="0.85"/><circle cx="138.6" cy="178.8" r="0.85"/><circle cx="140.8" cy="179.2" r="0.85"/><circle cx="142.9" cy="180.8" r="0.85"/><circle cx="145.1" cy="183.2" r="0.85"/><circle cx="147.3" cy="186.0" r="0.85"/><circle cx="149.5" cy="188.0" r="0.85"/><circle cx="151.7" cy="186.7" r="0.85"/><circle cx="153.9" cy="185.8" r="0.85"/><circle cx="156.1" cy="185.7" r="0.85"/><circle cx="158.2" cy="186.1" r="0.85"/><circle cx="160.4" cy="186.6" r="0.85"/><circle cx="162.6" cy="188.0" r="0.85"/><circle cx="164.8" cy="189.5" r="0.85"/><circle cx="167.0" cy="190.7" r="0.85"/><circle cx="169.2" cy="191.2" r="0.85"/><circle cx="171.4" cy="191.2" r="0.85"/><circle cx="173.5" cy="191.6" r="0.85"/><circle cx="175.7" cy="193.9" r="0.85"/><circle cx="177.9" cy="203.7" r="0.85"/><circle cx="180.1" cy="215.8" r="0.85"/><circle cx="182.3" cy="217.1" r="0.85"/><circle cx="184.5" cy="211.7" r="0.85"/><circle cx="186.7" cy="207.3" r="0.85"/><circle cx="188.8" cy="205.5" r="0.85"/><circle cx="191.0" cy="206.6" r="0.85"/><circle cx="193.2" cy="204.7" r="0.85"/><circle cx="195.4" cy="200.8" r="0.85"/><circle cx="197.6" cy="197.0" r="0.85"/><circle cx="199.8" cy="194.2" r="0.85"/><circle cx="201.9" cy="192.1" r="0.85"/><circle cx="204.1" cy="189.9" r="0.85"/><circle cx="206.3" cy="188.4" r="0.85"/><circle cx="208.5" cy="187.5" r="0.85"/><circle cx="210.7" cy="186.3" r="0.85"/><circle cx="212.9" cy="183.6" r="0.85"/><circle cx="215.1" cy="180.0" r="0.85"/><circle cx="217.2" cy="177.4" r="0.85"/><circle cx="219.4" cy="174.6" r="0.85"/><circle cx="221.6" cy="171.4" r="0.85"/><circle cx="223.8" cy="168.1" r="0.85"/><circle cx="226.0" cy="165.6" r="0.85"/><circle cx="228.2" cy="163.7" r="0.85"/></g>
<line x1="23.5" y1="155.9" x2="239.2" y2="155.9" class="fh"/><line x1="23.5" y1="237.0" x2="239.2" y2="237.0" class="fh"/><line x1="23.5" y1="155.4" x2="23.5" y2="237.5" class="fv"/><line x1="239.2" y1="155.4" x2="239.2" y2="237.5" class="fv"/>
<rect x="26.7" y="224.7" width="36.599999999999994" height="11.0" fill="#fff" fill-opacity="0.8" stroke="#e2e2e2" stroke-width="0.5"/>
<line x1="28.3" y1="227.3" x2="41.5" y2="227.3" stroke="#1f77b4" stroke-width="0.9" stroke-opacity="0.85"/><circle cx="34.9" cy="227.3" r="0.9" fill="#1f77b4"/><text x="46.1" y="228.75" class="lg" textLength="10.0" lengthAdjust="spacingAndGlyphs">left</text>
<line x1="28.3" y1="232.3" x2="41.5" y2="232.3" stroke="#ff7f0e" stroke-width="0.9" stroke-opacity="0.85"/><circle cx="34.9" cy="232.3" r="0.9" fill="#ff7f0e"/><text x="46.1" y="233.75" class="lg" textLength="13.6" lengthAdjust="spacingAndGlyphs">right</text>
<text x="114.7" y="233.0" class="vt">Variance=231</text>
<text x="425.4" y="154.0" class="tt" textLength="12.8" lengthAdjust="spacingAndGlyphs">avg</text>
<line x1="334.6" y1="237.4" x2="334.6" y2="238.9" class="tk"/><text x="332.70" y="243.0" class="tl" textLength="3.80" lengthAdjust="spacingAndGlyphs">0</text>
<line x1="378.3" y1="237.4" x2="378.3" y2="238.9" class="tk"/><text x="374.50" y="243.0" class="tl" textLength="7.60" lengthAdjust="spacingAndGlyphs">20</text>
<line x1="422.0" y1="237.4" x2="422.0" y2="238.9" class="tk"/><text x="418.20" y="243.0" class="tl" textLength="7.60" lengthAdjust="spacingAndGlyphs">40</text>
<line x1="465.7" y1="237.4" x2="465.7" y2="238.9" class="tk"/><text x="461.90" y="243.0" class="tl" textLength="7.60" lengthAdjust="spacingAndGlyphs">60</text>
<line x1="509.4" y1="237.4" x2="509.4" y2="238.9" class="tk"/><text x="505.60" y="243.0" class="tl" textLength="7.60" lengthAdjust="spacingAndGlyphs">80</text>
<line x1="322.9" y1="232.3" x2="324.4" y2="232.3" class="tk"/><text x="312.60" y="233.8" class="tl" textLength="7.50" lengthAdjust="spacingAndGlyphs">80</text>
<line x1="322.9" y1="222.0" x2="324.4" y2="222.0" class="tk"/><text x="308.85" y="223.5" class="tl" textLength="11.25" lengthAdjust="spacingAndGlyphs">100</text>
<line x1="322.9" y1="211.6" x2="324.4" y2="211.6" class="tk"/><text x="308.85" y="213.2" class="tl" textLength="11.25" lengthAdjust="spacingAndGlyphs">120</text>
<line x1="322.9" y1="201.3" x2="324.4" y2="201.3" class="tk"/><text x="308.85" y="202.9" class="tl" textLength="11.25" lengthAdjust="spacingAndGlyphs">140</text>
<line x1="322.9" y1="191.0" x2="324.4" y2="191.0" class="tk"/><text x="308.85" y="192.5" class="tl" textLength="11.25" lengthAdjust="spacingAndGlyphs">160</text>
<line x1="322.9" y1="180.7" x2="324.4" y2="180.7" class="tk"/><text x="308.85" y="182.2" class="tl" textLength="11.25" lengthAdjust="spacingAndGlyphs">180</text>
<line x1="322.9" y1="170.3" x2="324.4" y2="170.3" class="tk"/><text x="308.85" y="171.9" class="tl" textLength="11.25" lengthAdjust="spacingAndGlyphs">200</text>
<line x1="322.9" y1="160.0" x2="324.4" y2="160.0" class="tk"/><text x="308.85" y="161.6" class="tl" textLength="11.25" lengthAdjust="spacingAndGlyphs">220</text>
<polyline points="334.0,210.7 337.9,210.1 341.8,209.5 345.7,209.7 349.5,210.1 353.4,210.4 357.3,210.8 361.2,212.4 364.3,213.9 366.9,215.7 369.4,216.5 372.0,216.0 374.6,216.5 377.2,214.9 379.8,213.9 382.4,213.1 385.0,214.4 387.6,215.7 390.2,218.3 392.8,222.7 395.3,228.6 397.9,232.5 400.5,233.0 403.1,231.2 405.7,228.6 407.7,222.7 409.5,213.1 412.1,210.6 414.7,210.6 417.3,210.0 419.9,209.8 422.5,209.3 425.0,209.3 427.6,208.7 430.2,208.7 432.8,209.3 435.4,209.3 438.0,209.8 440.6,209.3 443.1,209.8 445.7,211.3 447.6,213.9 450.2,215.0 452.8,213.9 455.3,213.9 457.9,214.4 460.5,214.4 463.1,215.0 465.7,215.7 468.3,216.5 470.8,216.5 473.4,216.5 475.5,217.0 477.3,222.2 479.1,227.4 481.2,230.5 483.2,229.9 485.1,227.9 486.9,225.3 488.9,224.3 491.5,224.3 494.1,222.7 496.7,220.9 499.3,219.6 501.8,218.3 504.4,217.0 507.0,215.7 509.6,215.0 512.2,213.1 514.5,210.6 518.4,208.0 522.3,205.4 526.2,203.6 529.5,202.0" fill="none" stroke="#1f77b4" stroke-width="0.95" stroke-linejoin="round"/>
<g fill="#1f77b4"><circle cx="334.6" cy="210.6" r="0.85"/><circle cx="336.8" cy="210.3" r="0.85"/><circle cx="339.0" cy="209.9" r="0.85"/><circle cx="341.2" cy="209.6" r="0.85"/><circle cx="343.3" cy="209.6" r="0.85"/><circle cx="345.5" cy="209.7" r="0.85"/><circle cx="347.7" cy="209.9" r="0.85"/><circle cx="349.9" cy="210.1" r="0.85"/><circle cx="352.1" cy="210.3" r="0.85"/><circle cx="354.3" cy="210.5" r="0.85"/><circle cx="356.5" cy="210.7" r="0.85"/><circle cx="358.6" cy="211.3" r="0.85"/><circle cx="360.8" cy="212.2" r="0.85"/><circle cx="363.0" cy="213.3" r="0.85"/><circle cx="365.2" cy="214.5" r="0.85"/><circle cx="367.4" cy="215.9" r="0.85"/><circle cx="369.6" cy="216.5" r="0.85"/><circle cx="371.7" cy="216.0" r="0.85"/><circle cx="373.9" cy="216.4" r="0.85"/><circle cx="376.1" cy="215.6" r="0.85"/><circle cx="378.3" cy="214.5" r="0.85"/><circle cx="380.5" cy="213.7" r="0.85"/><circle cx="382.7" cy="213.2" r="0.85"/><circle cx="384.9" cy="214.3" r="0.85"/><circle cx="387.0" cy="215.4" r="0.85"/><circle cx="389.2" cy="217.3" r="0.85"/><circle cx="391.4" cy="220.3" r="0.85"/><circle cx="393.6" cy="224.6" r="0.85"/><circle cx="395.8" cy="229.3" r="0.85"/><circle cx="398.0" cy="232.5" r="0.85"/><circle cx="400.2" cy="232.9" r="0.85"/><circle cx="402.3" cy="231.7" r="0.85"/><circle cx="404.5" cy="229.8" r="0.85"/><circle cx="406.7" cy="225.6" r="0.85"/><circle cx="408.9" cy="216.4" r="0.85"/><circle cx="411.1" cy="211.6" r="0.85"/><circle cx="413.3" cy="210.6" r="0.85"/><circle cx="415.4" cy="210.4" r="0.85"/><circle cx="417.6" cy="210.0" r="0.85"/><circle cx="419.8" cy="209.8" r="0.85"/><circle cx="422.0" cy="209.4" r="0.85"/><circle cx="424.2" cy="209.3" r="0.85"/><circle cx="426.4" cy="209.0" r="0.85"/><circle cx="428.6" cy="208.7" r="0.85"/><circle cx="430.7" cy="208.8" r="0.85"/><circle cx="432.9" cy="209.3" r="0.85"/><circle cx="435.1" cy="209.3" r="0.85"/><circle cx="437.3" cy="209.7" r="0.85"/><circle cx="439.5" cy="209.5" r="0.85"/><circle cx="441.7" cy="209.5" r="0.85"/><circle cx="443.9" cy="210.2" r="0.85"/><circle cx="446.0" cy="211.8" r="0.85"/><circle cx="448.2" cy="214.2" r="0.85"/><circle cx="450.4" cy="214.9" r="0.85"/><circle cx="452.6" cy="214.0" r="0.85"/><circle cx="454.8" cy="213.9" r="0.85"/><circle cx="457.0" cy="214.2" r="0.85"/><circle cx="459.1" cy="214.4" r="0.85"/><circle cx="461.3" cy="214.6" r="0.85"/><circle cx="463.5" cy="215.1" r="0.85"/><circle cx="465.7" cy="215.7" r="0.85"/><circle cx="467.9" cy="216.4" r="0.85"/><circle cx="470.1" cy="216.5" r="0.85"/><circle cx="472.3" cy="216.5" r="0.85"/><circle cx="474.4" cy="216.7" r="0.85"/><circle cx="476.6" cy="220.2" r="0.85"/><circle cx="478.8" cy="226.6" r="0.85"/><circle cx="481.0" cy="230.2" r="0.85"/><circle cx="483.2" cy="229.9" r="0.85"/><circle cx="485.4" cy="227.5" r="0.85"/><circle cx="487.6" cy="225.0" r="0.85"/><circle cx="489.7" cy="224.3" r="0.85"/><circle cx="491.9" cy="224.0" r="0.85"/><circle cx="494.1" cy="222.7" r="0.85"/><circle cx="496.3" cy="221.2" r="0.85"/><circle cx="498.5" cy="220.0" r="0.85"/><circle cx="500.7" cy="218.9" r="0.85"/><circle cx="502.8" cy="217.8" r="0.85"/><circle cx="505.0" cy="216.7" r="0.85"/><circle cx="507.2" cy="215.6" r="0.85"/><circle cx="509.4" cy="215.1" r="0.85"/><circle cx="511.6" cy="213.5" r="0.85"/><circle cx="513.8" cy="211.4" r="0.85"/><circle cx="516.0" cy="209.6" r="0.85"/><circle cx="518.1" cy="208.2" r="0.85"/><circle cx="520.3" cy="206.7" r="0.85"/><circle cx="522.5" cy="205.3" r="0.85"/><circle cx="524.7" cy="204.3" r="0.85"/><circle cx="526.9" cy="203.3" r="0.85"/><circle cx="529.1" cy="202.2" r="0.85"/></g>
<polyline points="334.0,172.6 337.9,173.1 341.8,173.6 345.7,174.4 349.5,174.1 353.4,173.9 357.3,173.6 361.2,173.1 364.3,172.6 366.3,174.4 367.6,179.5 369.4,188.6 371.0,197.6 372.8,205.4 374.6,209.8 376.2,209.8 378.0,204.1 379.8,193.8 381.8,186.0 383.9,182.9 386.5,182.9 388.9,185.5 392.2,187.3 394.0,196.3 395.3,205.4 397.4,211.3 400.0,210.6 402.6,206.7 404.4,200.2 407.0,189.9 409.5,179.5 412.1,172.6 414.7,170.5 417.3,169.2 419.9,167.4 422.5,165.9 425.0,164.8 427.6,164.0 430.2,163.3 432.8,162.2 435.4,161.5 438.0,160.7 440.6,160.2 443.1,159.7 445.7,159.1 447.6,158.9 449.7,162.8 451.5,166.6 454.0,164.8 456.6,164.8 459.2,164.0 461.8,164.0 464.4,165.3 467.0,166.6 469.5,167.9 472.1,169.2 474.7,171.8 476.5,178.3 478.6,186.0 480.7,193.8 482.5,200.2 483.8,204.1 485.1,197.6 486.9,188.6 488.9,183.4 491.5,182.1 494.1,182.9 496.7,184.7 499.3,187.3 501.8,190.7 504.4,193.8 507.0,197.6 509.6,200.2 512.2,204.1 514.5,209.8 518.4,212.4 522.3,213.9 526.2,215.7 530.0,218.3" fill="none" stroke="#ff7f0e" stroke-width="0.95" stroke-linejoin="round"/>
<g fill="#ff7f0e"><circle cx="334.6" cy="172.7" r="0.85"/><circle cx="336.8" cy="173.0" r="0.85"/><circle cx="339.0" cy="173.2" r="0.85"/><circle cx="341.2" cy="173.5" r="0.85"/><circle cx="343.3" cy="173.9" r="0.85"/><circle cx="345.5" cy="174.4" r="0.85"/><circle cx="347.7" cy="174.2" r="0.85"/><circle cx="349.9" cy="174.1" r="0.85"/><circle cx="352.1" cy="174.0" r="0.85"/><circle cx="354.3" cy="173.8" r="0.85"/><circle cx="356.5" cy="173.7" r="0.85"/><circle cx="358.6" cy="173.4" r="0.85"/><circle cx="360.8" cy="173.1" r="0.85"/><circle cx="363.0" cy="172.8" r="0.85"/><circle cx="365.2" cy="173.4" r="0.85"/><circle cx="367.4" cy="178.6" r="0.85"/><circle cx="369.6" cy="189.5" r="0.85"/><circle cx="371.7" cy="200.8" r="0.85"/><circle cx="373.9" cy="208.2" r="0.85"/><circle cx="376.1" cy="209.8" r="0.85"/><circle cx="378.3" cy="202.4" r="0.85"/><circle cx="380.5" cy="191.1" r="0.85"/><circle cx="382.7" cy="184.7" r="0.85"/><circle cx="384.9" cy="182.9" r="0.85"/><circle cx="387.0" cy="183.5" r="0.85"/><circle cx="389.2" cy="185.7" r="0.85"/><circle cx="391.4" cy="186.9" r="0.85"/><circle cx="393.6" cy="194.3" r="0.85"/><circle cx="395.8" cy="206.7" r="0.85"/><circle cx="398.0" cy="211.1" r="0.85"/><circle cx="400.2" cy="210.4" r="0.85"/><circle cx="402.3" cy="207.1" r="0.85"/><circle cx="404.5" cy="199.7" r="0.85"/><circle cx="406.7" cy="191.1" r="0.85"/><circle cx="408.9" cy="182.0" r="0.85"/><circle cx="411.1" cy="175.3" r="0.85"/><circle cx="413.3" cy="171.7" r="0.85"/><circle cx="415.4" cy="170.1" r="0.85"/><circle cx="417.6" cy="169.0" r="0.85"/><circle cx="419.8" cy="167.5" r="0.85"/><circle cx="422.0" cy="166.2" r="0.85"/><circle cx="424.2" cy="165.2" r="0.85"/><circle cx="426.4" cy="164.4" r="0.85"/><circle cx="428.6" cy="163.7" r="0.85"/><circle cx="430.7" cy="163.1" r="0.85"/><circle cx="432.9" cy="162.2" r="0.85"/><circle cx="435.1" cy="161.6" r="0.85"/><circle cx="437.3" cy="160.9" r="0.85"/><circle cx="439.5" cy="160.4" r="0.85"/><circle cx="441.7" cy="160.0" r="0.85"/><circle cx="443.9" cy="159.5" r="0.85"/><circle cx="446.0" cy="159.1" r="0.85"/><circle cx="448.2" cy="160.1" r="0.85"/><circle cx="450.4" cy="164.3" r="0.85"/><circle cx="452.6" cy="165.8" r="0.85"/><circle cx="454.8" cy="164.8" r="0.85"/><circle cx="457.0" cy="164.7" r="0.85"/><circle cx="459.1" cy="164.0" r="0.85"/><circle cx="461.3" cy="164.0" r="0.85"/><circle cx="463.5" cy="164.9" r="0.85"/><circle cx="465.7" cy="166.0" r="0.85"/><circle cx="467.9" cy="167.1" r="0.85"/><circle cx="470.1" cy="168.2" r="0.85"/><circle cx="472.3" cy="169.4" r="0.85"/><circle cx="474.4" cy="171.5" r="0.85"/><circle cx="476.6" cy="178.8" r="0.85"/><circle cx="478.8" cy="186.8" r="0.85"/><circle cx="481.0" cy="194.8" r="0.85"/><circle cx="483.2" cy="202.2" r="0.85"/><circle cx="485.4" cy="196.3" r="0.85"/><circle cx="487.6" cy="186.9" r="0.85"/><circle cx="489.7" cy="183.0" r="0.85"/><circle cx="491.9" cy="182.2" r="0.85"/><circle cx="494.1" cy="182.9" r="0.85"/><circle cx="496.3" cy="184.4" r="0.85"/><circle cx="498.5" cy="186.5" r="0.85"/><circle cx="500.7" cy="189.1" r="0.85"/><circle cx="502.8" cy="191.9" r="0.85"/><circle cx="505.0" cy="194.7" r="0.85"/><circle cx="507.2" cy="197.8" r="0.85"/><circle cx="509.4" cy="200.0" r="0.85"/><circle cx="511.6" cy="203.2" r="0.85"/><circle cx="513.8" cy="208.0" r="0.85"/><circle cx="516.0" cy="210.8" r="0.85"/><circle cx="518.1" cy="212.2" r="0.85"/><circle cx="520.3" cy="213.1" r="0.85"/><circle cx="522.5" cy="214.0" r="0.85"/><circle cx="524.7" cy="215.0" r="0.85"/><circle cx="526.9" cy="216.2" r="0.85"/><circle cx="529.1" cy="217.7" r="0.85"/></g>
<line x1="324.4" y1="155.9" x2="539.2" y2="155.9" class="fh"/><line x1="324.4" y1="237.4" x2="539.2" y2="237.4" class="fh"/><line x1="324.4" y1="155.4" x2="324.4" y2="237.9" class="fv"/><line x1="539.2" y1="155.4" x2="539.2" y2="237.9" class="fv"/>
<rect x="499" y="158" width="37" height="10.199999999999989" fill="#fff" fill-opacity="0.8" stroke="#e2e2e2" stroke-width="0.5"/>
<line x1="500.6" y1="160.3" x2="513.8" y2="160.3" stroke="#1f77b4" stroke-width="0.9" stroke-opacity="0.85"/><circle cx="507.2" cy="160.3" r="0.9" fill="#1f77b4"/><text x="518.8" y="161.75" class="lg" textLength="10.0" lengthAdjust="spacingAndGlyphs">left</text>
<line x1="500.6" y1="165.1" x2="513.8" y2="165.1" stroke="#ff7f0e" stroke-width="0.9" stroke-opacity="0.85"/><circle cx="507.2" cy="165.1" r="0.9" fill="#ff7f0e"/><text x="518.8" y="166.55" class="lg" textLength="13.6" lengthAdjust="spacingAndGlyphs">right</text>
<text x="332.9" y="169.2" class="vt">Variance=936.8</text>

<defs>
<filter id="fb" x="-10%" y="-10%" width="120%" height="120%"><feGaussianBlur stdDeviation="0.6"/></filter>
<filter id="fb2" x="-10%" y="-10%" width="120%" height="120%"><feGaussianBlur stdDeviation="1.6"/></filter>
<filter id="fe" x="-5%" y="-5%" width="110%" height="110%"><feGaussianBlur stdDeviation="0.25"/></filter>
<clipPath id="c3"><rect x="53.3" y="249" width="45.4" height="39.5"/></clipPath>
<clipPath id="c4"><rect x="144.8" y="248.9" width="44.4" height="39.9"/></clipPath>
<clipPath id="c5"><rect x="356.7" y="249" width="45.8" height="39.7"/></clipPath>
<clipPath id="c6"><rect x="447.9" y="248.9" width="47.6" height="39.9"/></clipPath>
<radialGradient id="g3" cx="0.42" cy="0.5" r="0.75"><stop offset="0" stop-color="#e29452"/><stop offset="0.6" stop-color="#d98646"/><stop offset="1" stop-color="#c47236"/></radialGradient>
<radialGradient id="gb" cx="0.5" cy="0.5" r="0.7"><stop offset="0" stop-color="#c29286"/><stop offset="0.7" stop-color="#b4847a"/><stop offset="1" stop-color="#9c7068"/></radialGradient>
<radialGradient id="g5" cx="0.5" cy="0.45" r="0.7"><stop offset="0" stop-color="#eeeeee"/><stop offset="0.75" stop-color="#e0e0e0"/><stop offset="1" stop-color="#b8b8b8"/></radialGradient>
<g id="baby">
<rect x="0" y="0" width="44.5" height="39.9" fill="url(#gb)"/>
<g filter="url(#fb2)">
<rect x="0" y="0" width="44.5" height="2.5" fill="#987068"/>
<ellipse cx="22" cy="7" rx="16" ry="4" fill="#c9a49a"/>
<ellipse cx="10" cy="16.5" rx="6" ry="2.2" fill="#c8a49c"/>
<ellipse cx="34" cy="16.5" rx="6" ry="2.2" fill="#c8a49c"/>
<ellipse cx="7" cy="27" rx="6" ry="6.5" fill="#b67068"/>
<ellipse cx="37" cy="27" rx="6" ry="6.5" fill="#b67068"/>
<rect x="0" y="0" width="2.5" height="40" fill="#a07068"/>
<rect x="42" y="0" width="2.5" height="40" fill="#a07068"/>
<path d="M0,30 L4,33 L10,40 L0,40 Z" fill="#c8c8b0"/>
<path d="M44.5,33 L40,36 L37,40 L44.5,40 Z" fill="#c4c4ac"/>
<ellipse cx="21.5" cy="21.5" rx="6.8" ry="5" fill="none" stroke="#966860" stroke-width="1.4"/>
</g>
<g filter="url(#fb)">
<path d="M4,9.5 Q9,6.5 15,8 M28,8 Q34,6.5 40,9.5" stroke="#a07870" stroke-width="1" fill="none"/>
<path d="M4.5,13.6 Q9.5,10.8 15,13.4 Q9.5,15.8 4.5,13.6 Z" fill="#2a1816" stroke="#2a1816" stroke-width="0.9"/>
<path d="M29,13.4 Q34,10.8 39.5,13.8 Q34,15.8 29,13.4 Z" fill="#2a1816" stroke="#2a1816" stroke-width="0.9"/>
<path d="M5,16.2 Q10,17.4 14.5,16 M29.5,16 Q34,17.4 39,16.4" stroke="#d4b4ac" stroke-width="0.9" fill="none"/>
<ellipse cx="21.5" cy="21.5" rx="5" ry="3.6" fill="#c69c92"/>
<ellipse cx="21.5" cy="20.6" rx="2.4" ry="1.7" fill="#d2aca4"/>
<ellipse cx="18.6" cy="23.8" rx="1.4" ry="0.9" fill="#845248"/>
<ellipse cx="24.6" cy="23.8" rx="1.4" ry="0.9" fill="#845248"/>
<path d="M12.8,30 Q22,28.4 31.2,30 Q28.5,36.6 22,36.6 Q15.5,36.6 12.8,30 Z" fill="#9c4652"/>
<path d="M13.2,30.2 Q22,28.8 30.8,30.2 Q22,32.6 13.2,30.2 Z" fill="#642630"/>
<path d="M16,33.5 Q22,35.8 28,33.5" stroke="#bc6a74" stroke-width="1.1" fill="none"/>
</g>
</g>
</defs>
<g id="faces">
<!-- edge face 1a -->
<rect x="53" y="102.8" width="46.3" height="40.4" fill="#000"/>
<g fill="none" stroke="#e8e8e8" stroke-width="0.55" filter="url(#fe)" stroke-linecap="round">
<path d="M90.5,103.3 Q93.5,106 94.6,110.5 Q96.3,117 96,123.2 Q95.5,130 92,135.8 Q89.5,139.5 86.5,142.5"/>
<path d="M54,114.6 Q57,112.4 62.6,111.5 Q69,111.5 73.2,113.3 Q75.2,114.8 75.9,116.6"/>
<path d="M54.3,116.8 Q58,115 63,114.6 Q68,114.2 72.5,115.8"/>
<path d="M54.7,118.6 Q59,116.6 63.9,116.2 Q66,116.3 67.5,117 Q62,119.5 57,119.4"/>
<path d="M83.2,112 Q87,110 91.8,110 Q93.3,110.4 94,111.3"/>
<path d="M83.2,115.9 Q87,114.8 91.8,115.6 L93.1,117.3 Q89,118.6 85.5,118"/>
<path d="M79.2,116.6 Q80.3,119.5 82.5,121.7 Q85,123.3 88,123.9"/>
<path d="M73.2,121.9 Q77,120.6 80,122.6"/>
<path d="M59.3,134.5 Q61.5,131.5 63.9,129.2 Q66,126.5 68.6,124.5 Q71,122.8 73.2,122.2 Q76,121.6 78.5,121.9 Q81.5,122.3 83.8,123.2 Q86,124.2 87.1,125.2 Q88.6,126.8 89.1,128.5 Q89.2,131 88.5,133.2 Q87,135.3 85.2,136.7 Q82,138 78.5,138.5 Q74.5,139 70.6,138.9 Q67,138.8 63.9,138.1 Q61.5,137.3 60,135.8 Z"/>
<path d="M63.3,130.5 Q67.5,128.5 71.9,127.2 Q78,126.5 85.2,127.2"/>
<path d="M64.6,133.2 Q70,132.6 75.5,132.4 Q81,132.2 85.8,131.8"/>
<path d="M65.5,135.5 Q72,136.2 79,135.8 Q84,135.2 86.5,134"/>
<path d="M66.5,130.2 L67.2,133 M69.5,129 L70,132.6 M72.6,128.2 L73,132.4 M75.8,127.8 L76,132.3 M79,127.8 L79.2,132.2 M82.2,128 L82.3,132 M85,128.3 L85.1,131.9"/>
<path d="M68,133.5 L68.4,135.8 M71.5,133.2 L71.8,136 M75,133 L75.2,136 M78.5,133 L78.6,135.9 M82,132.8 L82,135.5"/>
<path d="M56,135.2 Q58,138 60,139.1 Q63,140.6 65.3,141.2"/>
<path d="M53.4,137.8 Q55,140 56.5,142.6"/>
<path d="M68,122.8 Q71,121.5 73.5,122.3"/>
</g>
<!-- edge face 1b -->
<rect x="144.6" y="102.8" width="44.8" height="40.6" fill="#000"/>
<g id="ef1b" fill="none" stroke="#e4e4e4" stroke-width="0.55" filter="url(#fe)" stroke-linecap="round">
<path d="M145.7,113.3 Q147.5,110.6 149.6,110 Q152,108.8 154.3,108.6"/>
<path d="M146.5,114.2 Q149,111.8 151,111.4 Q153,110.3 155,110.2"/>
<path d="M176.2,110 Q179.5,109.8 181.5,110.6 Q185,112 186.8,114.6"/>
<path d="M176,111.4 Q180,111 182.5,112 Q185,113.5 186,115.4"/>
<path d="M149,115.9 Q152.5,114 156.3,114.4 Q160,114.6 162.9,115.9 Q160,117.8 156.3,117.9 Q152,117.8 149,115.9 Z"/>
<path d="M155,116 Q156.5,115.3 158,116.2 M160,116.4 Q161.8,117.8 162.9,119.3"/>
<path d="M171.5,116.6 Q174.5,114.4 177.5,114.4 Q180.5,115 182.8,117.3 Q179,118.6 176,118.4 Q173.5,118.2 171.5,116.6 Z"/>
<path d="M175.5,116.4 Q177,115.5 178.5,116.6"/>
<path d="M161.6,126.5 Q162.5,124 164.2,123.2 Q166,121.8 168.2,121.9 Q170.5,122 172.2,123.2 Q174.5,124.5 174.8,125.9 Q174.5,127.8 173.5,127.9 Q170,128.3 168.2,127.9 Q165,128 162.9,127.2 Z"/>
<path d="M165,126 Q166,124.3 167.3,125.8 M169.5,125.6 Q170.8,124 172,125.8"/>
<path d="M155.6,133.2 Q158.5,132 161.6,132.2 Q165,132.6 168.2,132.5 Q171,132.5 173.5,132.8 Q176,133 178.1,133.6"/>
<path d="M157,134.4 Q162,133.6 168,134.3 Q173,134.5 177,134.4"/>
<path d="M158.9,136.5 Q163,137.6 166.9,137.6 Q171,137.4 173.5,136.7"/>
<path d="M160,135.3 L161,136.7 M163.5,134.6 L164,136.9 M167,134.6 L167.5,137.2 M170.5,134.8 L171,137 M174,134.9 L174.3,136.3"/>
<path d="M144.8,136.5 Q146,138.5 146.5,139.5 Q147.5,141 148.3,142.8"/>
<path d="M144.8,140 L146,142.8"/>
<path d="M181.5,142.8 Q184,140 185,139.5 Q186.8,137.8 188.8,136.5"/>
<path d="M185.5,142.8 L189,139.5"/>
<path d="M148.9,137.9 L147.6,137.4 L145.9,137.6 M145.0,138.5 L145.0,139.4 L144.8,140.2 L144.8,141.1 L144.8,141.7 M149.7,140.1 L149.2,141.5 L149.7,142.1 M145.8,142.7 L144.9,143.2 L144.8,143.2 L144.8,143.2 M147.1,138.6 L147.1,137.8 L146.3,136.5 L144.8,136.4 M145.4,137.5 L146.1,135.7 L147.3,135.1 L148.1,135.7 L150.0,136.2 M148.0,140.3 L148.9,140.4 L149.9,140.4 L151.6,141.1 L152.0,142.3 M147.3,138.0 L148.2,136.4 L148.1,135.3 L147.8,134.3 L148.6,134.0 M151.2,140.8 L152.0,140.8 L152.0,139.6 L152.0,138.4" fill="none" stroke="#b8b8b8" stroke-width="0.45" filter="url(#fe)"/>
<path d="M185.3,139.6 L186.8,138.6 L187.2,136.9 L187.5,135.3 M183.3,138.7 L183.2,140.3 L184.9,141.3 L184.8,142.9 L184.5,143.2 M182.1,139.3 L182.5,140.8 L182.1,141.9 M186.3,136.6 L186.4,138.2 L186.7,139.3 L185.0,140.4 M188.0,140.8 L187.7,141.6 L187.2,142.3 M182.8,137.4 L183.0,138.1 L184.6,139.1 M185.4,143.0 L184.5,143.2 L183.3,143.2 M184.2,135.1 L184.0,136.8 L185.2,137.4" fill="none" stroke="#b8b8b8" stroke-width="0.45" filter="url(#fe)"/>
</g>
<!-- edge face 2a -->
<rect x="356.6" y="102.8" width="47.5" height="40.2" fill="#000"/>
<g fill="none" stroke="#e4e4e4" stroke-width="0.55" filter="url(#fe)" stroke-linecap="round">
<path d="M357.3,104.6 Q359,103.8 361.3,103.3 M358,108 Q360,106 362.5,104 M357.5,110.5 Q359.5,109.5 360.5,107"/>
<path d="M398.4,103.3 Q400.5,105 402.4,107.3 M399.5,104 L401.5,103.2 M401,108 Q402.5,110 403.4,112.5"/>
<path d="M358.6,112.6 Q361.3,111.3 366,111 Q372,110.6 377.2,111.3 Q378.5,111.8 378.5,111.9"/>
<path d="M359.5,114.3 Q363,112.8 368,113 Q373,113.4 377,114"/>
<path d="M362.6,115.9 Q367,114.6 373.2,116.6 Q369,118.6 365,118.3 Q363,117.5 362.6,115.9 Z"/>
<path d="M360,117.5 Q362,119.5 366,119.6 Q370,119.8 373,119"/>
<path d="M383.8,111.9 Q390,110.5 395,111.5 Q398,112.2 399.7,113.3"/>
<path d="M384.5,113.8 Q390,112.6 398.5,115.2"/>
<path d="M385.1,116.6 Q390,114.8 394,115.6 Q396.8,116.4 398.4,117.9 Q394,119.3 390,119 Q387,118.5 385.1,116.6 Z"/>
<path d="M386,119.8 Q392,121 399.5,119.5 M400,116 L402,118"/>
<path d="M373.2,117.2 Q373.4,120.5 372.6,123.2 Q373,125.5 374.5,127.2 Q376.5,128.6 378.5,128.5 Q381,128.6 382.5,127.8 Q384.5,126.8 384.5,125.2 Q383.8,122.5 382.5,120.5 Q382.2,118.4 383.2,116.6"/>
<path d="M375.5,124.5 Q376.8,122.8 378,124.6 M380,124.4 Q381.3,122.8 382.5,124.3"/>
<path d="M367.3,133.8 Q372,133 378,133.2 Q385,133 391.8,132.7"/>
<path d="M368.5,134.5 Q375,134.5 382,134.3 Q388,134 391,133.4"/>
<path d="M374.5,135.1 Q380,135.6 386.5,134.8"/>
<path d="M358,128.5 Q359.5,133 361.3,136.4 Q363.5,139.5 366.6,141.7 Q368,142.5 369,142.9"/>
<path d="M402.4,125.8 Q401.5,131 400,135 Q399,137.3 398.4,139.1 Q396,141.5 393.5,142.9"/>
<path d="M398.5,140.5 L401,142 M400.5,137.5 L403,139"/>
</g>
<!-- edge face 2b (same image as 1b) -->
<rect x="447.9" y="102.8" width="48" height="40.2" fill="#000"/>
<use href="#ef1b" transform="translate(447.9,102.8) scale(1.0714,0.99) translate(-144.6,-102.8)"/>

<path d="M357.9,110.7 L357.0,109.5 L357.0,108.7 L357.0,108.7 M363.3,106.6 L362.8,105.6 L363.2,104.2 M357.7,106.0 L359.6,106.5 L360.6,106.4 L361.5,106.2 L362.3,105.2 M360.5,105.3 L359.5,107.0 L358.2,107.0 M363.4,111.3 L363.0,112.0 L363.7,112.0 L364.0,112.0 L362.9,112.0 M362.8,109.1 L361.4,109.2 L360.7,108.2 L361.0,106.9 L361.9,106.0 M361.7,106.4 L362.5,106.3 L363.5,106.5 L364.0,105.5 L364.0,104.2 M360.3,105.9 L361.2,105.1 L361.3,103.7 L362.9,103.2 L364.0,103.2 M358.6,107.7 L360.1,106.6 L361.6,106.2 L362.8,106.5 L363.6,108.3" fill="none" stroke="#b8b8b8" stroke-width="0.45" filter="url(#fe)"/>
<path d="M403.5,110.6 L403.8,110.6 L403.8,111.0 M398.7,104.9 L399.8,104.1 L400.9,103.2 L402.7,103.8 L403.8,104.4 M398.8,103.5 L399.5,105.2 L400.5,106.8 L401.4,107.1 M398.6,104.6 L399.4,106.4 L399.5,107.4 L398.1,108.5 L397.0,108.7 M402.2,109.4 L402.5,111.0 L402.0,111.0 L401.4,111.0 M403.3,107.1 L403.8,106.3 L403.8,106.6 L403.8,107.7 M400.1,108.3 L401.8,109.1 L403.1,110.2 L403.8,111.0 L403.8,111.0 M400.8,107.2 L399.8,106.9 L398.0,106.3 L397.2,105.8" fill="none" stroke="#b8b8b8" stroke-width="0.45" filter="url(#fe)"/>
<path d="M358.9,138.8 L357.9,139.9 L357.0,141.1 L357.0,142.0 L357.0,142.8 M361.3,138.8 L361.1,139.8 L359.8,140.1 M357.1,140.8 L358.8,140.7 L359.7,141.4 L360.9,142.8 L362.3,142.8 M360.4,140.4 L360.3,139.5 L359.3,139.0 M364.7,137.8 L363.2,136.8 L362.2,135.8 L361.3,135.2 M359.7,142.1 L360.0,142.8 L361.6,142.8 L361.4,142.8 M361.6,140.3 L362.2,140.9 L363.4,142.0 L364.3,142.7 L365.0,142.1 M357.2,137.8 L357.2,139.3 L358.8,140.0 M359.6,141.8 L360.3,141.2 L359.9,140.3 L359.4,138.4 L360.3,137.7" fill="none" stroke="#b8b8b8" stroke-width="0.45" filter="url(#fe)"/>
<path d="M397.8,132.2 L397.9,133.0 L397.8,134.2 M403.7,131.7 L402.8,132.1 L402.6,133.1 L400.9,133.7 M402.3,140.4 L403.7,141.6 L403.2,142.8 L403.4,142.8 M398.6,135.6 L398.7,136.5 L397.2,137.5 M400.3,134.5 L401.4,134.4 L402.3,135.0 L403.4,135.4 L403.8,135.7 M398.0,140.4 L398.8,141.2 L399.7,142.3 L401.4,142.8 M397.5,135.9 L398.0,136.8 L398.8,138.0 L399.1,139.0 L400.2,140.4 M401.5,134.3 L399.7,135.0 L399.2,135.7 M398.8,132.0 L400.6,132.6 L401.4,131.8 L403.1,132.3 M399.2,142.1 L398.2,141.9 L397.3,141.7" fill="none" stroke="#b8b8b8" stroke-width="0.45" filter="url(#fe)"/>
<path d="M370.6,117.7 L371.3,116.7 L372.6,116.6 L373.3,116.1 L373.3,115.0 M374.8,114.4 L375.6,113.9 L376.3,112.7 M373.0,112.4 L373.6,111.5 L373.2,111.0 M360.1,118.0 L360.9,118.6 L360.7,119.7 M371.5,112.8 L372.2,111.5 L372.3,111.0 L372.3,111.0 L371.8,111.0 M373.9,116.3 L372.9,116.1 L372.3,115.1 L371.3,114.5 L370.9,113.8 M376.6,111.2 L375.3,111.0 L374.1,111.0 L373.8,111.7 M363.1,119.6 L362.1,120.0 L361.8,120.0 M368.9,118.0 L369.1,119.0 L369.9,119.9 L369.5,120.0 L369.0,120.0 M362.5,113.5 L361.8,112.7 L361.0,112.7" fill="none" stroke="#b8b8b8" stroke-width="0.45" filter="url(#fe)"/>
<path d="M396.7,118.4 L396.4,119.2 L395.6,120.0 L394.6,120.0 M384.4,115.4 L384.0,116.3 L384.4,117.5 L384.2,118.8 M394.6,116.5 L395.5,116.6 L396.3,117.7 L397.0,118.3 M387.2,116.7 L386.7,117.6 L385.9,118.3 M398.9,119.2 L398.4,117.8 L398.0,116.5 L397.9,115.5 L397.7,114.5 M385.9,115.5 L384.7,115.2 L384.0,115.5 M391.7,112.2 L391.9,113.2 L393.0,113.8 L393.9,114.7 L394.5,115.6 M392.4,113.6 L391.3,113.5 L390.5,112.9 L390.7,112.0 M399.7,119.0 L398.9,117.9 L399.0,116.8 L399.0,115.5 M390.5,111.8 L390.4,111.0 L391.0,111.0 L391.9,111.0" fill="none" stroke="#b8b8b8" stroke-width="0.45" filter="url(#fe)"/>
<path d="M56.6,135.4 L56.7,134.5 L57.4,134.0 M55.7,134.8 L55.6,136.1 L54.9,136.7 M55.8,139.6 L56.6,139.5 L57.7,138.5 L57.5,137.2 L57.5,135.7 M58.5,140.1 L59.2,141.2 L59.6,142.0 L60.6,142.0 L61.8,142.6 M56.5,139.3 L55.9,140.1 L55.0,140.3 L54.0,141.2 M56.7,138.0 L55.5,138.3 L54.6,138.0" fill="none" stroke="#b8b8b8" stroke-width="0.45" filter="url(#fe)"/>
<path d="M69.2,133.7 L70.0,133.4 L71.0,133.9 L71.8,134.0 L72.7,134.0 M77.2,133.2 L76.9,133.9 L77.2,134.0 L76.5,134.0 M66.6,128.1 L67.7,127.7 L68.0,126.9 M69.4,126.7 L70.4,127.1 L71.1,126.7 L72.0,127.2 L73.2,127.0 M77.3,131.8 L78.3,131.2 L78.9,130.5 L79.8,130.0 M71.2,128.9 L70.7,128.2 L69.6,128.1 L68.8,128.0 M84.8,130.1 L84.0,129.1 L83.2,128.8 M64.8,128.0 L64.0,128.3 L64.0,128.8 L64.0,129.0 L64.0,129.9 M70.9,126.1 L71.7,126.0 L72.6,126.3 L73.4,126.7 M65.8,126.6 L65.1,126.3 L64.2,126.0 M82.6,130.0 L81.8,129.8 L81.0,130.4 L80.0,130.9 L79.1,131.7 M64.1,132.7 L65.3,132.9 L66.1,133.8 L66.6,134.0 L66.1,134.0" fill="none" stroke="#b8b8b8" stroke-width="0.45" filter="url(#fe)"/>
<path d="M89.1,116.9 L90.2,116.5 L90.9,117.0 L91.8,117.9 L92.8,117.5 M91.7,117.9 L91.1,117.4 L89.7,117.8 M94.9,112.8 L95.0,112.0 L94.8,112.0 L95.0,112.0 L95.0,112.0 M88.4,116.4 L88.9,117.8 L89.9,117.9 L90.7,118.0 L92.2,117.9 M85.2,119.8 L86.6,119.8 L88.0,119.3 L88.4,117.9 L88.8,116.8 M89.9,114.6 L90.5,115.2 L91.1,115.9" fill="none" stroke="#b8b8b8" stroke-width="0.45" filter="url(#fe)"/>
<!-- photo face 3: smiling woman -->
<g clip-path="url(#c3)">
<rect x="53.3" y="249" width="45.4" height="39.5" fill="url(#g3)"/>
<g filter="url(#fb2)">
<ellipse cx="72" cy="253" rx="19" ry="5" fill="#e4a068"/>
<ellipse cx="62" cy="266" rx="7" ry="4" fill="#e29a62"/>
<ellipse cx="84" cy="266" rx="6" ry="4" fill="#dc9460"/>
<ellipse cx="58" cy="276" rx="5" ry="7" fill="#d07a46"/>
<ellipse cx="91" cy="276" rx="4" ry="7" fill="#bc6a3c"/>
<rect x="53.3" y="285.5" width="45.4" height="4" fill="#a85a2c"/>
</g>
<g filter="url(#fb)">
<path d="M90,248 L100,248 L100,290 L89,290 Q92.5,286 94,280 Q95.4,272 95.6,265 Q95.3,258 93.9,256.2 Q92,252 90,248 Z" fill="#1e120c"/>
<path d="M54.6,259.3 Q57.5,257.2 60.7,256.7 Q64,256 66.8,256.3 Q70,256.8 72,257.8" stroke="#5a301c" stroke-width="1.3" fill="none"/>
<path d="M81.7,257.8 Q84,256.5 86.9,256.3 Q90,256.2 92.1,256.7 Q94,257.6 94.8,258.9" stroke="#5a301c" stroke-width="1.3" fill="none"/>
<path d="M57.2,263.3 Q60,261.6 63.5,261.6 Q67.5,261.6 70.3,262.6 Q67,264.4 63.5,264.2 Q60,264 57.2,263.3 Z" fill="#33302c"/>
<path d="M80.8,262.6 Q83.5,261.4 86.5,261.4 Q90,261.6 93,262.8 Q90,264.2 86.5,264.1 Q83,264 80.8,262.6 Z" fill="#33302c"/>
<path d="M70.5,270 Q72,268.8 73.5,269.8 M79.5,269.8 Q81,268.8 82.5,270" stroke="#8a4a2a" stroke-width="1.1" fill="none"/>
<path d="M72,268 Q76.5,266.5 81,268" stroke="#c47a4a" stroke-width="1.2" fill="none"/>
<path d="M63.3,279.1 Q65.5,276.8 69.5,276.3 Q74,275.4 78.2,275.5 Q83.5,275.8 86.9,276.9 Q88.4,278 87.8,279.3 Q86.5,284 80,285.8 Q75,286.4 70,285.6 Q65,283.5 63.3,279.1 Z" fill="#c4604c"/>
<path d="M66.5,281 Q75,284.8 85.5,281 Q82,285 76,285.4 Q70,285 66.5,281 Z" fill="#d47c68"/>
</g>
<path d="M64.8,278.3 Q69,277 75,276.8 Q81,276.7 86.2,278.2 Q85.5,280.2 80,280.5 Q75,280.8 70,280.6 Q66,280 64.8,278.3 Z" fill="#f2e8d8" filter="url(#fe)"/>
<path d="M65.5,280.3 Q75,281.6 85.5,280.1" stroke="#4a1a14" stroke-width="0.9" fill="none" filter="url(#fe)"/>
</g>
<!-- photo face 4: baby -->
<g clip-path="url(#c4)"><use href="#baby" transform="translate(144.8,248.9) scale(0.998,1)"/></g>
<!-- photo face 5: grayscale girl -->
<g clip-path="url(#c5)">
<rect x="356.7" y="249" width="45.8" height="39.7" fill="url(#g5)"/>
<g filter="url(#fb2)">
<ellipse cx="380" cy="253" rx="15" ry="5" fill="#f4f4f4"/>
<ellipse cx="380" cy="283" rx="10" ry="5" fill="#f0f0f0"/>
<ellipse cx="365" cy="272" rx="6" ry="6" fill="#ececec"/>
<ellipse cx="394" cy="272" rx="5" ry="6" fill="#e8e8e8"/>
</g>
<g filter="url(#fb)">
<path d="M356,248 L363.5,248 Q361,252 360,256 Q359.2,262 359.3,268 Q359.3,274 359.5,279 Q362.5,285 367,289 L356,289 Z" fill="#2a2a2a"/>
<path d="M403.5,248 L398.5,248 Q400,253 400.5,260.4 Q401.5,266 402,271 Q399,281 391,289 L403.5,289 Z" fill="#262626"/>
<path d="M361.2,258.2 Q363.5,256.7 366.6,256.4 Q370,256.1 372.8,256.4 Q375,256.9 375.9,257.7" stroke="#505050" stroke-width="1.5" fill="none"/>
<path d="M384.4,257.7 Q387,256.5 390.6,256.4 Q394,256.4 396.9,256.9 Q399,257.7 400,258.6" stroke="#505050" stroke-width="1.5" fill="none"/>
<path d="M363,260.5 Q368,259.4 373.5,260.8 M385.5,260.8 Q391,259.4 396.5,261" stroke="#b0b0b0" stroke-width="1.1" fill="none"/>
<path d="M362.1,263 Q364.5,261.4 367.5,261.3 Q371.5,261.6 374.2,263 Q370.5,264.4 367.5,264.3 Q364.5,264.2 362.1,263 Z" fill="#262626"/>
<path d="M385.3,263 Q388,261.4 391.5,261.5 Q394.8,261.8 396.9,263 Q393.5,264.4 391,264.3 Q388,264.2 385.3,263 Z" fill="#262626"/>
<path d="M363,265.5 Q368,266.8 373.5,265.5 M386,265.5 Q391,266.8 396,265.5" stroke="#c4c4c4" stroke-width="0.9" fill="none"/>
<path d="M374,271.5 Q375.5,274.3 380,274.6 Q384.5,274.3 386,271.5" stroke="#a8a8a8" stroke-width="1.2" fill="none"/>
<ellipse cx="376.8" cy="272.8" rx="1.3" ry="0.8" fill="#6a6a6a"/>
<ellipse cx="384" cy="272.8" rx="1.3" ry="0.8" fill="#6a6a6a"/>
<path d="M369.7,278.6 Q375,279.6 380,279.5 Q386,279.3 391.5,278.1" stroke="#5e5e5e" stroke-width="1.3" fill="none"/>
<path d="M372,281 Q380,282.6 389,280.8" stroke="#c8c8c8" stroke-width="1" fill="none"/>
</g>
</g>
<!-- photo face 6: baby -->
<g clip-path="url(#c6)"><use href="#baby" transform="translate(447.9,248.9) scale(1.0697,1)"/></g>
</g>

<text x="145.6" y="310.7" font-family="Liberation Serif, serif" font-size="17" fill="#111" textLength="17.4" lengthAdjust="spacingAndGlyphs">(<tspan font-weight="bold">b</tspan>)</text>
<text y="310.7" font-family="Liberation Serif, serif" font-size="17" fill="#111"><tspan x="168.9">Comparison</tspan> <tspan x="257.0">of</tspan> <tspan x="274.6" textLength="45.8" lengthAdjust="spacingAndGlyphs">happy</tspan> <tspan x="324.0">expressions</tspan></text>
</svg>
</body></html>
